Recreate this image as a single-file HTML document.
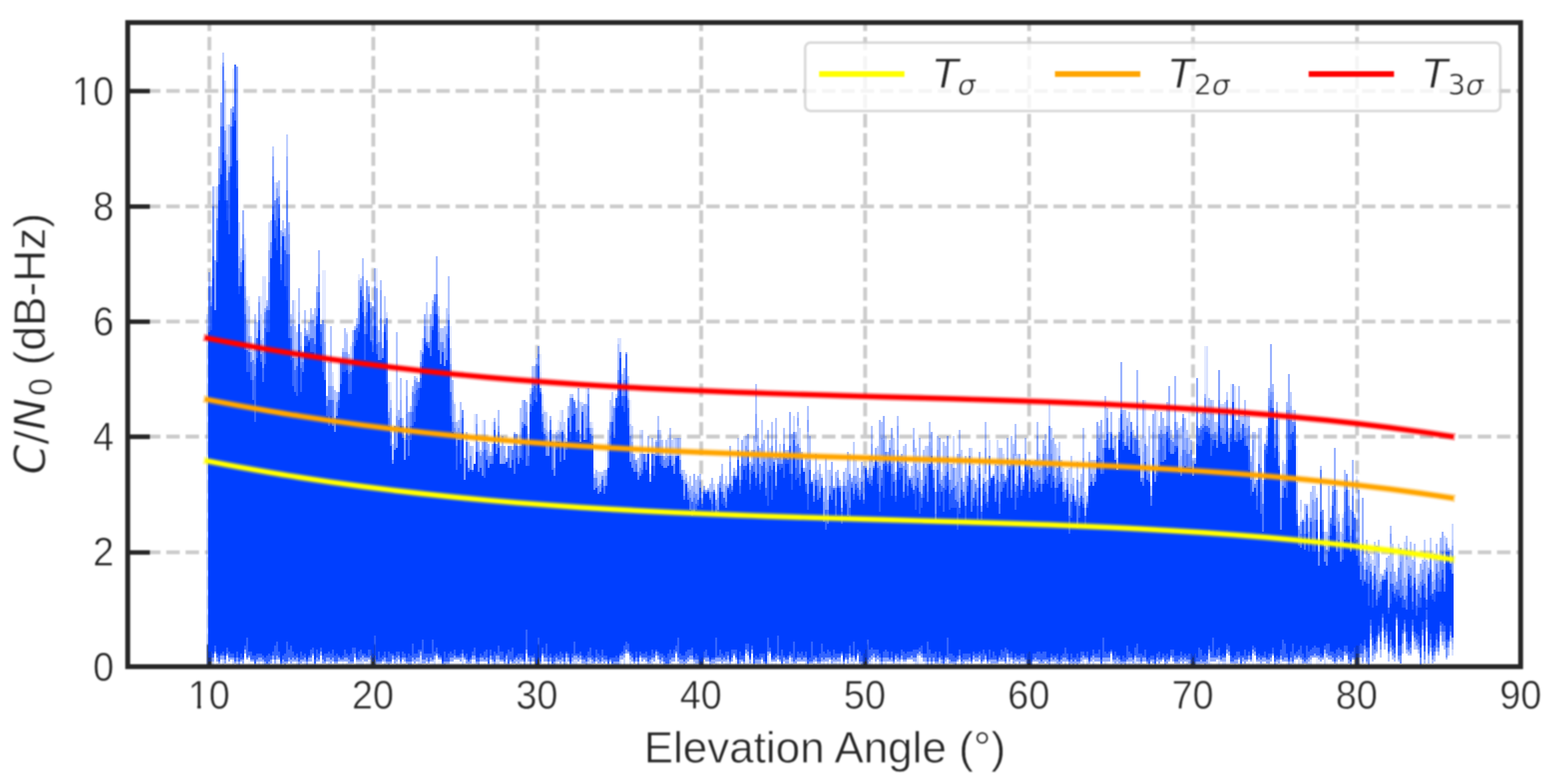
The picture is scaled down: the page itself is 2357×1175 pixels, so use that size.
<!DOCTYPE html>
<html lang="en">
<head>
<meta charset="utf-8">
<title>C/N0 vs Elevation Angle</title>
<style>
html,body{margin:0;padding:0;background:#fff;}
body{width:2357px;height:1175px;overflow:hidden;}
svg{display:block;}
</style>
</head>
<body>
<svg width="2357" height="1175" viewBox="0 0 2357 1175">
<rect width="2357" height="1175" fill="#fff"/>
<defs><filter id="soft" x="-2%" y="-2%" width="104%" height="104%" filterUnits="objectBoundingBox" color-interpolation-filters="sRGB"><feGaussianBlur stdDeviation="0.85"/></filter></defs>
<g filter="url(#soft)">
<g stroke="#cccccc" stroke-width="5.8" fill="none">
<path stroke-dasharray="20.2 8.74" d="M314.70 1001.7 V33.9"/>
<path stroke-dasharray="20.2 8.74" d="M561.15 1001.7 V33.9"/>
<path stroke-dasharray="20.2 8.74" d="M807.60 1001.7 V33.9"/>
<path stroke-dasharray="20.2 8.74" d="M1054.05 1001.7 V33.9"/>
<path stroke-dasharray="20.2 8.74" d="M1300.50 1001.7 V33.9"/>
<path stroke-dasharray="20.2 8.74" d="M1546.95 1001.7 V33.9"/>
<path stroke-dasharray="20.2 8.74" d="M1793.40 1001.7 V33.9"/>
<path stroke-dasharray="20.2 8.74" d="M2039.85 1001.7 V33.9"/>
<path stroke-dasharray="20.24 8.75" d="M192.0 829.80 H2285.8"/>
<path stroke-dasharray="20.24 8.75" d="M192.0 656.00 H2285.8"/>
<path stroke-dasharray="20.24 8.75" d="M192.0 483.10 H2285.8"/>
<path stroke-dasharray="20.24 8.75" d="M192.0 310.10 H2285.8"/>
<path stroke-dasharray="20.24 8.75" d="M192.0 136.60 H2285.8"/>
</g>
<g stroke="#262626" stroke-width="6.9" fill="none">
<path d="M314.70 1001.7 v-33.34"/>
<path d="M561.15 1001.7 v-33.34"/>
<path d="M807.60 1001.7 v-33.34"/>
<path d="M1054.05 1001.7 v-33.34"/>
<path d="M1300.50 1001.7 v-33.34"/>
<path d="M1546.95 1001.7 v-33.34"/>
<path d="M1793.40 1001.7 v-33.34"/>
<path d="M2039.85 1001.7 v-33.34"/>
<path d="M192.0 830.10 h33.34"/>
<path d="M192.0 656.30 h33.34"/>
<path d="M192.0 483.40 h33.34"/>
<path d="M192.0 310.40 h33.34"/>
<path d="M192.0 136.90 h33.34"/>
</g>
</g>
<g fill="#003fff" stroke="none" shape-rendering="crispEdges">
<path fill-opacity="0.05" d="M316 994h3V1000h-3zM331 97h3V154h-3zM331 991h3V1000h-3zM337 997h3V1000h-3zM340 985h3V1000h-3zM343 994h3V1000h-3zM352 997h3V1000h-3zM358 238h3V334h-3zM361 994h3V1000h-3zM373 988h3V1000h-3zM391 994h3V1000h-3zM409 991h3V1000h-3zM418 991h3V1000h-3zM424 997h3V1000h-3zM433 994h3V1000h-3zM442 994h3V1000h-3zM451 997h3V1000h-3zM466 994h3V1000h-3zM475 994h3V1000h-3zM481 985h3V1000h-3zM484 997h3V1000h-3zM487 997h3V1000h-3zM490 994h3V1000h-3zM508 994h3V1000h-3zM592 997h3V1000h-3zM598 991h3V1000h-3zM604 991h3V1000h-3zM619 994h3V1000h-3zM625 994h3V1000h-3zM634 997h3V1000h-3zM646 994h3V1000h-3zM658 991h3V1000h-3zM661 991h3V1000h-3zM676 994h3V1000h-3zM679 994h3V1000h-3zM682 991h3V1000h-3zM685 991h3V1000h-3zM688 991h3V1000h-3zM697 991h3V1000h-3zM700 997h3V1000h-3zM706 997h3V1000h-3zM709 991h3V1000h-3zM712 649h3V697h-3zM727 994h3V1000h-3zM751 994h3V1000h-3zM754 994h3V1000h-3zM766 994h3V1000h-3zM769 997h3V1000h-3zM784 994h3V1000h-3zM817 994h3V1000h-3zM826 994h3V1000h-3zM844 994h3V1000h-3zM868 994h3V1000h-3zM871 991h3V1000h-3zM892 997h3V1000h-3zM910 661h3V706h-3zM952 997h3V1000h-3zM961 988h3V1000h-3zM967 991h3V1000h-3zM985 985h3V1000h-3zM991 997h3V1000h-3zM994 994h3V1000h-3zM1006 997h3V1000h-3zM1033 994h3V1000h-3zM1036 991h3V1000h-3zM1039 991h3V1000h-3zM1060 994h3V1000h-3zM1072 997h3V1000h-3zM1126 997h3V1000h-3zM1129 982h3V1000h-3zM1135 997h3V1000h-3zM1144 991h3V1000h-3zM1156 982h3V1000h-3zM1162 994h3V1000h-3zM1201 994h3V1000h-3zM1225 994h3V1000h-3zM1228 997h3V1000h-3zM1240 994h3V1000h-3zM1246 991h3V1000h-3zM1264 985h3V1000h-3zM1273 997h3V1000h-3zM1288 985h3V1000h-3zM1291 997h3V1000h-3zM1300 994h3V1000h-3zM1333 994h3V1000h-3zM1336 994h3V1000h-3zM1372 994h3V1000h-3zM1381 985h3V1000h-3zM1384 988h3V1000h-3zM1387 994h3V1000h-3zM1402 994h3V1000h-3zM1405 997h3V1000h-3zM1426 997h3V1000h-3zM1438 994h3V1000h-3zM1441 991h3V1000h-3zM1450 994h3V1000h-3zM1471 991h3V1000h-3zM1483 997h3V1000h-3zM1492 997h3V1000h-3zM1498 997h3V1000h-3zM1504 994h3V1000h-3zM1522 997h3V1000h-3zM1546 997h3V1000h-3zM1552 994h3V1000h-3zM1573 997h3V1000h-3zM1645 994h3V1000h-3zM1666 994h3V1000h-3zM1687 997h3V1000h-3zM1717 994h3V1000h-3zM1723 997h3V1000h-3zM1729 994h3V1000h-3zM1741 997h3V1000h-3zM1765 997h3V1000h-3zM1780 994h3V1000h-3zM1789 997h3V1000h-3zM1819 994h3V1000h-3zM1828 991h3V1000h-3zM1834 994h3V1000h-3zM1843 982h3V1000h-3zM1846 985h3V1000h-3zM1852 997h3V1000h-3zM1873 994h3V1000h-3zM1900 994h3V1000h-3zM1909 994h3V1000h-3zM1927 994h3V1000h-3zM1984 994h3V1000h-3zM1993 988h3V1000h-3zM1999 991h3V1000h-3zM2002 994h3V1000h-3zM2020 985h3V1000h-3zM2023 985h3V1000h-3zM2044 988h3V1000h-3z"/>
<path fill-opacity="0.1" d="M313 994h3V1000h-3zM322 280h3V391h-3zM325 994h3V1000h-3zM328 997h3V1000h-3zM349 103h3V160h-3zM370 445h3V451h-3zM373 445h3V460h-3zM385 994h3V1000h-3zM391 445h3V472h-3zM415 991h3V1000h-3zM436 997h3V1000h-3zM439 994h3V1000h-3zM442 451h3V490h-3zM454 994h3V1000h-3zM463 994h3V1000h-3zM469 985h3V1000h-3zM484 406h3V481h-3zM487 406h3V487h-3zM496 997h3V1000h-3zM502 997h3V1000h-3zM505 997h3V1000h-3zM508 544h3V589h-3zM514 994h3V1000h-3zM520 994h3V1000h-3zM523 997h3V1000h-3zM526 997h3V1000h-3zM538 412h3V421h-3zM550 994h3V1000h-3zM553 991h3V1000h-3zM556 991h3V1000h-3zM565 403h3V433h-3zM565 997h3V1000h-3zM568 997h3V1000h-3zM580 997h3V1000h-3zM586 574h3V601h-3zM601 997h3V1000h-3zM607 994h3V1000h-3zM625 565h3V568h-3zM640 994h3V1000h-3zM643 472h3V490h-3zM649 994h3V1000h-3zM676 490h3V523h-3zM682 604h3V607h-3zM712 622h3V649h-3zM712 991h3V1000h-3zM724 631h3V664h-3zM739 634h3V667h-3zM778 997h3V1000h-3zM790 982h3V1000h-3zM793 994h3V1000h-3zM811 532h3V559h-3zM811 997h3V1000h-3zM817 616h3V619h-3zM829 646h3V652h-3zM835 646h3V649h-3zM838 631h3V646h-3zM838 994h3V1000h-3zM841 616h3V634h-3zM865 610h3V613h-3zM874 997h3V1000h-3zM880 583h3V607h-3zM889 634h3V643h-3zM889 997h3V1000h-3zM892 703h3V712h-3zM904 994h3V1000h-3zM913 643h3V646h-3zM946 601h3V637h-3zM970 994h3V1000h-3zM976 997h3V1000h-3zM982 664h3V682h-3zM1009 994h3V1000h-3zM1018 994h3V1000h-3zM1024 997h3V1000h-3zM1048 997h3V1000h-3zM1078 994h3V1000h-3zM1084 997h3V1000h-3zM1087 994h3V1000h-3zM1105 991h3V1000h-3zM1120 982h3V1000h-3zM1123 985h3V1000h-3zM1147 997h3V1000h-3zM1159 994h3V1000h-3zM1165 994h3V1000h-3zM1177 994h3V1000h-3zM1180 997h3V1000h-3zM1183 997h3V1000h-3zM1186 988h3V1000h-3zM1192 997h3V1000h-3zM1195 997h3V1000h-3zM1231 997h3V1000h-3zM1234 994h3V1000h-3zM1258 994h3V1000h-3zM1276 988h3V1000h-3zM1279 994h3V1000h-3zM1297 997h3V1000h-3zM1309 991h3V1000h-3zM1315 994h3V1000h-3zM1327 994h3V1000h-3zM1339 994h3V1000h-3zM1342 997h3V1000h-3zM1345 991h3V1000h-3zM1348 994h3V1000h-3zM1357 994h3V1000h-3zM1360 994h3V1000h-3zM1396 994h3V1000h-3zM1408 997h3V1000h-3zM1414 997h3V1000h-3zM1423 991h3V1000h-3zM1459 997h3V1000h-3zM1474 997h3V1000h-3zM1486 994h3V1000h-3zM1495 997h3V1000h-3zM1513 988h3V1000h-3zM1534 994h3V1000h-3zM1537 994h3V1000h-3zM1558 994h3V1000h-3zM1561 997h3V1000h-3zM1570 994h3V1000h-3zM1579 994h3V1000h-3zM1582 994h3V1000h-3zM1594 997h3V1000h-3zM1609 997h3V1000h-3zM1615 997h3V1000h-3zM1624 994h3V1000h-3zM1636 997h3V1000h-3zM1657 994h3V1000h-3zM1663 994h3V1000h-3zM1681 997h3V1000h-3zM1693 994h3V1000h-3zM1699 994h3V1000h-3zM1702 997h3V1000h-3zM1708 994h3V1000h-3zM1714 997h3V1000h-3zM1738 619h3V676h-3zM1753 997h3V1000h-3zM1768 997h3V1000h-3zM1771 997h3V1000h-3zM1777 997h3V1000h-3zM1786 619h3V658h-3zM1786 997h3V1000h-3zM1804 997h3V1000h-3zM1810 520h3V592h-3zM1849 577h3V622h-3zM1861 991h3V1000h-3zM1867 994h3V1000h-3zM1876 991h3V1000h-3zM1882 982h3V1000h-3zM1888 994h3V1000h-3zM1891 994h3V1000h-3zM1897 994h3V1000h-3zM1900 664h3V667h-3zM1924 991h3V1000h-3zM1933 994h3V1000h-3zM1942 997h3V1000h-3zM1945 991h3V1000h-3zM1948 670h3V724h-3zM1954 991h3V1000h-3zM1957 778h3V781h-3zM1966 757h3V778h-3zM1978 742h3V748h-3zM1978 988h3V1000h-3zM1981 991h3V1000h-3zM1999 760h3V778h-3zM2005 997h3V1000h-3zM2014 994h3V1000h-3zM2017 772h3V778h-3zM2017 994h3V1000h-3zM2038 715h3V781h-3zM2041 988h3V1000h-3z"/>
<path fill-opacity="0.15" d="M316 421h3V430h-3zM340 187h3V232h-3zM367 358h3V382h-3zM394 415h3V508h-3zM397 415h3V463h-3zM412 274h3V301h-3zM499 559h3V580h-3zM520 499h3V502h-3zM574 499h3V523h-3zM580 469h3V478h-3zM811 559h3V583h-3zM928 508h3V517h-3zM931 508h3V529h-3zM961 646h3V682h-3zM1657 649h3V661h-3zM1720 601h3V655h-3zM1813 520h3V601h-3zM1855 580h3V622h-3zM1885 679h3V721h-3zM1954 769h3V784h-3zM2182 976h3V985h-3z"/>
<path fill-opacity="0.2" d="M310 472h3V1000h-3zM319 994h3V1000h-3zM334 991h3V1000h-3zM337 121h3V196h-3zM349 991h3V1000h-3zM355 994h3V1000h-3zM364 997h3V1000h-3zM388 994h3V1000h-3zM394 994h3V1000h-3zM403 334h3V376h-3zM412 997h3V1000h-3zM445 994h3V1000h-3zM457 994h3V1000h-3zM493 994h3V1000h-3zM526 520h3V541h-3zM535 994h3V1000h-3zM538 994h3V1000h-3zM541 994h3V1000h-3zM544 991h3V1000h-3zM562 991h3V1000h-3zM577 994h3V1000h-3zM595 994h3V1000h-3zM628 994h3V1000h-3zM631 985h3V1000h-3zM643 490h3V514h-3zM652 991h3V1000h-3zM670 997h3V1000h-3zM673 997h3V1000h-3zM694 988h3V1000h-3zM703 997h3V1000h-3zM715 997h3V1000h-3zM739 994h3V1000h-3zM745 991h3V1000h-3zM748 991h3V1000h-3zM757 997h3V1000h-3zM760 991h3V1000h-3zM775 994h3V1000h-3zM781 994h3V1000h-3zM796 583h3V592h-3zM814 592h3V610h-3zM835 994h3V1000h-3zM841 997h3V1000h-3zM850 988h3V1000h-3zM859 994h3V1000h-3zM862 991h3V1000h-3zM865 991h3V1000h-3zM874 604h3V610h-3zM877 997h3V1000h-3zM883 994h3V1000h-3zM886 991h3V1000h-3zM925 592h3V598h-3zM931 991h3V1000h-3zM937 988h3V1000h-3zM946 991h3V1000h-3zM973 997h3V1000h-3zM979 991h3V1000h-3zM1003 658h3V685h-3zM1012 658h3V685h-3zM1021 997h3V1000h-3zM1042 994h3V1000h-3zM1045 997h3V1000h-3zM1054 997h3V1000h-3zM1069 997h3V1000h-3zM1072 727h3V736h-3zM1075 742h3V751h-3zM1075 994h3V1000h-3zM1090 994h3V1000h-3zM1093 991h3V1000h-3zM1096 997h3V1000h-3zM1105 706h3V715h-3zM1111 997h3V1000h-3zM1117 655h3V682h-3zM1117 997h3V1000h-3zM1138 997h3V1000h-3zM1141 997h3V1000h-3zM1153 985h3V1000h-3zM1156 673h3V685h-3zM1162 685h3V688h-3zM1165 691h3V709h-3zM1189 994h3V1000h-3zM1192 625h3V649h-3zM1201 643h3V673h-3zM1210 994h3V1000h-3zM1222 994h3V1000h-3zM1234 712h3V718h-3zM1237 994h3V1000h-3zM1243 706h3V751h-3zM1243 994h3V1000h-3zM1249 997h3V1000h-3zM1252 994h3V1000h-3zM1255 994h3V1000h-3zM1261 994h3V1000h-3zM1276 682h3V712h-3zM1282 988h3V1000h-3zM1285 691h3V715h-3zM1303 997h3V1000h-3zM1306 994h3V1000h-3zM1321 994h3V1000h-3zM1330 655h3V679h-3zM1330 994h3V1000h-3zM1351 994h3V1000h-3zM1375 994h3V1000h-3zM1378 685h3V706h-3zM1378 985h3V1000h-3zM1390 994h3V1000h-3zM1402 697h3V706h-3zM1405 700h3V739h-3zM1411 991h3V1000h-3zM1414 709h3V721h-3zM1420 994h3V1000h-3zM1432 655h3V703h-3zM1432 997h3V1000h-3zM1447 997h3V1000h-3zM1453 709h3V715h-3zM1453 994h3V1000h-3zM1459 673h3V721h-3zM1462 697h3V718h-3zM1477 691h3V718h-3zM1480 712h3V724h-3zM1486 661h3V685h-3zM1489 715h3V718h-3zM1489 997h3V1000h-3zM1498 661h3V700h-3zM1507 682h3V712h-3zM1516 994h3V1000h-3zM1525 994h3V1000h-3zM1531 997h3V1000h-3zM1534 706h3V718h-3zM1537 712h3V724h-3zM1540 994h3V1000h-3zM1549 700h3V703h-3zM1576 604h3V640h-3zM1585 994h3V1000h-3zM1588 673h3V703h-3zM1588 997h3V1000h-3zM1597 703h3V724h-3zM1600 718h3V736h-3zM1600 994h3V1000h-3zM1606 703h3V742h-3zM1627 991h3V1000h-3zM1633 991h3V1000h-3zM1642 991h3V1000h-3zM1660 994h3V1000h-3zM1672 994h3V1000h-3zM1675 997h3V1000h-3zM1678 994h3V1000h-3zM1696 994h3V1000h-3zM1705 988h3V1000h-3zM1711 994h3V1000h-3zM1714 658h3V706h-3zM1783 994h3V1000h-3zM1792 994h3V1000h-3zM1795 997h3V1000h-3zM1798 997h3V1000h-3zM1801 997h3V1000h-3zM1813 601h3V628h-3zM1813 997h3V1000h-3zM1816 982h3V1000h-3zM1831 991h3V1000h-3zM1834 607h3V622h-3zM1837 607h3V622h-3zM1837 994h3V1000h-3zM1840 994h3V1000h-3zM1855 997h3V1000h-3zM1870 997h3V1000h-3zM1894 997h3V1000h-3zM1906 997h3V1000h-3zM1918 994h3V1000h-3zM1921 628h3V658h-3zM1927 691h3V694h-3zM1939 994h3V1000h-3zM1942 616h3V634h-3zM1951 988h3V1000h-3zM1957 997h3V1000h-3zM1963 997h3V1000h-3zM1966 994h3V1000h-3zM1969 991h3V1000h-3zM1990 982h3V1000h-3zM2008 994h3V1000h-3zM2038 988h3V1000h-3zM2062 841h3V865h-3zM2077 862h3V865h-3zM2098 865h3V874h-3zM2101 817h3V853h-3zM2110 814h3V868h-3zM2128 862h3V886h-3zM2146 844h3V853h-3zM2170 805h3V847h-3zM2182 787h3V811h-3z"/>
<path fill-opacity="0.25" d="M325 280h3V310h-3zM334 79h3V94h-3zM358 334h3V385h-3zM376 505h3V529h-3zM379 526h3V541h-3zM385 484h3V508h-3zM391 472h3V511h-3zM409 220h3V235h-3zM430 202h3V235h-3zM469 472h3V481h-3zM577 445h3V478h-3zM583 574h3V619h-3zM640 454h3V490h-3zM658 460h3V475h-3zM670 463h3V490h-3zM709 670h3V706h-3zM820 619h3V646h-3zM832 652h3V664h-3zM844 616h3V646h-3zM847 634h3V652h-3zM856 592h3V598h-3zM871 604h3V652h-3zM886 634h3V643h-3zM898 709h3V730h-3zM901 709h3V727h-3zM904 709h3V715h-3zM916 601h3V634h-3zM919 589h3V610h-3zM949 640h3V664h-3zM964 646h3V682h-3zM991 646h3V661h-3zM1009 661h3V685h-3zM1027 706h3V721h-3zM1108 658h3V676h-3zM1135 664h3V682h-3zM1144 631h3V667h-3zM1168 682h3V688h-3zM1171 667h3V682h-3zM1198 640h3V667h-3zM1228 706h3V721h-3zM1270 703h3V730h-3zM1282 664h3V715h-3zM1303 706h3V712h-3zM1318 670h3V694h-3zM1342 658h3V676h-3zM1357 670h3V700h-3zM1366 715h3V718h-3zM1390 670h3V703h-3zM1426 697h3V721h-3zM1444 676h3V718h-3zM1474 733h3V760h-3zM1525 685h3V727h-3zM1528 682h3V715h-3zM1561 682h3V706h-3zM1570 652h3V670h-3zM1591 664h3V685h-3zM1594 691h3V709h-3zM1609 685h3V727h-3zM1618 694h3V721h-3zM1621 724h3V748h-3zM1630 739h3V763h-3zM1681 628h3V649h-3zM1774 640h3V685h-3zM1822 601h3V622h-3zM1840 604h3V622h-3zM1843 589h3V601h-3zM1885 649h3V679h-3zM1939 589h3V610h-3zM1954 751h3V769h-3zM1975 730h3V754h-3zM2050 838h3V856h-3zM2059 835h3V847h-3zM2065 814h3V850h-3zM2092 817h3V847h-3zM2140 811h3V844h-3zM2149 808h3V838h-3zM2152 859h3V874h-3zM2182 811h3V820h-3z"/>
<path fill-opacity="0.3" d="M340 232h3V271h-3zM343 187h3V250h-3zM361 373h3V394h-3zM367 382h3V430h-3zM370 451h3V487h-3zM373 460h3V505h-3zM382 472h3V484h-3zM388 445h3V454h-3zM394 508h3V529h-3zM400 451h3V460h-3zM406 331h3V364h-3zM415 274h3V283h-3zM418 271h3V295h-3zM424 331h3V349h-3zM427 343h3V355h-3zM436 472h3V490h-3zM439 451h3V487h-3zM442 490h3V538h-3zM445 499h3V538h-3zM448 433h3V469h-3zM451 499h3V520h-3zM457 466h3V493h-3zM460 496h3V502h-3zM463 484h3V502h-3zM466 463h3V481h-3zM472 463h3V490h-3zM487 487h3V514h-3zM493 544h3V580h-3zM496 490h3V580h-3zM502 586h3V628h-3zM505 589h3V604h-3zM514 523h3V529h-3zM517 493h3V529h-3zM520 502h3V529h-3zM523 532h3V544h-3zM529 496h3V514h-3zM532 490h3V496h-3zM535 478h3V487h-3zM538 421h3V463h-3zM541 418h3V430h-3zM544 388h3V415h-3zM547 451h3V475h-3zM562 403h3V430h-3zM568 496h3V514h-3zM571 421h3V436h-3zM586 601h3V613h-3zM589 667h3V691h-3zM595 499h3V625h-3zM601 568h3V601h-3zM604 628h3V640h-3zM607 658h3V661h-3zM616 610h3V619h-3zM622 565h3V571h-3zM631 526h3V544h-3zM634 508h3V529h-3zM649 451h3V460h-3zM661 493h3V514h-3zM664 493h3V514h-3zM667 490h3V523h-3zM673 415h3V472h-3zM676 523h3V547h-3zM682 607h3V634h-3zM688 631h3V643h-3zM691 604h3V631h-3zM700 649h3V664h-3zM703 664h3V703h-3zM706 670h3V685h-3zM715 622h3V637h-3zM721 676h3V685h-3zM727 631h3V664h-3zM736 679h3V685h-3zM742 628h3V634h-3zM748 616h3V640h-3zM754 655h3V670h-3zM769 670h3V676h-3zM772 649h3V652h-3zM781 613h3V649h-3zM784 601h3V634h-3zM793 652h3V664h-3zM799 550h3V571h-3zM802 550h3V574h-3zM805 538h3V547h-3zM814 610h3V622h-3zM817 619h3V643h-3zM823 649h3V664h-3zM829 652h3V664h-3zM838 646h3V652h-3zM841 634h3V649h-3zM850 658h3V664h-3zM859 592h3V598h-3zM889 643h3V655h-3zM892 712h3V718h-3zM907 706h3V715h-3zM913 646h3V664h-3zM922 610h3V613h-3zM928 517h3V556h-3zM934 562h3V577h-3zM943 565h3V598h-3zM946 637h3V655h-3zM958 688h3V709h-3zM973 655h3V682h-3zM979 658h3V682h-3zM985 661h3V664h-3zM988 625h3V646h-3zM994 661h3V685h-3zM1000 661h3V685h-3zM1006 643h3V658h-3zM1015 658h3V685h-3zM1021 658h3V685h-3zM1021 685h3V691h-3zM1030 712h3V718h-3zM1033 724h3V733h-3zM1036 715h3V736h-3zM1045 721h3V742h-3zM1051 712h3V724h-3zM1054 739h3V748h-3zM1063 733h3V736h-3zM1066 727h3V739h-3zM1084 697h3V712h-3zM1087 727h3V739h-3zM1090 715h3V730h-3zM1093 727h3V730h-3zM1099 715h3V730h-3zM1120 655h3V670h-3zM1129 676h3V697h-3zM1132 655h3V676h-3zM1135 577h3V622h-3zM1138 643h3V670h-3zM1141 673h3V697h-3zM1159 634h3V670h-3zM1165 628h3V661h-3zM1177 643h3V667h-3zM1180 676h3V682h-3zM1195 649h3V670h-3zM1198 619h3V628h-3zM1204 679h3V685h-3zM1213 610h3V631h-3zM1213 649h3V694h-3zM1216 655h3V691h-3zM1219 721h3V724h-3zM1225 682h3V709h-3zM1231 697h3V712h-3zM1240 688h3V730h-3zM1246 706h3V730h-3zM1252 730h3V733h-3zM1261 721h3V730h-3zM1264 730h3V763h-3zM1300 700h3V703h-3zM1309 640h3V667h-3zM1309 694h3V715h-3zM1312 694h3V700h-3zM1324 634h3V658h-3zM1324 685h3V706h-3zM1336 661h3V673h-3zM1348 625h3V640h-3zM1351 685h3V694h-3zM1360 667h3V688h-3zM1369 700h3V718h-3zM1372 643h3V661h-3zM1372 679h3V715h-3zM1375 673h3V697h-3zM1381 658h3V709h-3zM1387 676h3V697h-3zM1393 670h3V697h-3zM1396 634h3V664h-3zM1396 694h3V697h-3zM1408 655h3V676h-3zM1417 664h3V715h-3zM1420 670h3V700h-3zM1435 703h3V730h-3zM1441 646h3V682h-3zM1450 685h3V715h-3zM1456 673h3V685h-3zM1465 721h3V727h-3zM1468 700h3V733h-3zM1480 634h3V673h-3zM1492 712h3V715h-3zM1501 673h3V724h-3zM1504 673h3V691h-3zM1516 697h3V700h-3zM1519 655h3V694h-3zM1522 667h3V682h-3zM1525 637h3V661h-3zM1540 658h3V682h-3zM1543 694h3V697h-3zM1558 634h3V655h-3zM1564 691h3V703h-3zM1573 682h3V703h-3zM1579 643h3V661h-3zM1585 667h3V718h-3zM1615 745h3V751h-3zM1624 712h3V724h-3zM1627 643h3V688h-3zM1639 691h3V712h-3zM1642 691h3V718h-3zM1645 691h3V712h-3zM1651 640h3V658h-3zM1657 661h3V673h-3zM1660 595h3V661h-3zM1663 613h3V628h-3zM1666 649h3V673h-3zM1672 658h3V673h-3zM1678 688h3V706h-3zM1690 616h3V664h-3zM1696 619h3V655h-3zM1702 646h3V658h-3zM1705 655h3V658h-3zM1711 661h3V673h-3zM1714 706h3V718h-3zM1717 658h3V679h-3zM1720 655h3V667h-3zM1723 670h3V706h-3zM1726 640h3V691h-3zM1729 730h3V745h-3zM1735 616h3V700h-3zM1738 676h3V706h-3zM1741 640h3V652h-3zM1750 640h3V652h-3zM1753 604h3V640h-3zM1759 646h3V661h-3zM1762 658h3V664h-3zM1768 634h3V646h-3zM1771 643h3V691h-3zM1780 628h3V658h-3zM1783 646h3V658h-3zM1786 658h3V682h-3zM1789 661h3V676h-3zM1792 688h3V706h-3zM1804 622h3V640h-3zM1816 598h3V631h-3zM1825 634h3V649h-3zM1828 634h3V649h-3zM1846 643h3V658h-3zM1849 622h3V643h-3zM1855 622h3V631h-3zM1861 580h3V622h-3zM1864 625h3V643h-3zM1867 625h3V637h-3zM1870 601h3V622h-3zM1873 625h3V643h-3zM1876 625h3V640h-3zM1879 685h3V694h-3zM1882 649h3V661h-3zM1885 721h3V727h-3zM1891 643h3V670h-3zM1894 643h3V670h-3zM1897 721h3V727h-3zM1903 640h3V661h-3zM1921 658h3V679h-3zM1924 721h3V748h-3zM1927 694h3V721h-3zM1930 697h3V715h-3zM1945 616h3V634h-3zM1960 757h3V784h-3zM1963 757h3V760h-3zM1966 778h3V799h-3zM1969 739h3V778h-3zM1972 730h3V751h-3zM1981 811h3V829h-3zM1984 700h3V706h-3zM1990 799h3V820h-3zM1993 799h3V826h-3zM1996 730h3V784h-3zM2008 736h3V778h-3zM2011 772h3V784h-3zM2014 799h3V820h-3zM2020 706h3V721h-3zM2026 736h3V760h-3zM2035 772h3V778h-3zM2044 826h3V844h-3zM2047 994h3V997h-3zM2050 976h3V988h-3zM2053 811h3V844h-3zM2053 994h3V997h-3zM2059 952h3V961h-3zM2062 985h3V994h-3zM2065 982h3V991h-3zM2068 979h3V982h-3zM2071 811h3V832h-3zM2071 955h3V958h-3zM2074 862h3V874h-3zM2074 976h3V988h-3zM2077 943h3V949h-3zM2080 967h3V976h-3zM2083 955h3V967h-3zM2086 835h3V886h-3zM2086 982h3V994h-3zM2089 790h3V802h-3zM2089 817h3V859h-3zM2089 973h3V979h-3zM2092 985h3V991h-3zM2095 988h3V994h-3zM2098 931h3V940h-3zM2101 991h3V994h-3zM2107 967h3V982h-3zM2110 949h3V952h-3zM2113 805h3V823h-3zM2113 841h3V880h-3zM2113 976h3V982h-3zM2116 829h3V850h-3zM2116 979h3V985h-3zM2119 814h3V853h-3zM2119 982h3V985h-3zM2122 949h3V955h-3zM2125 817h3V844h-3zM2125 964h3V976h-3zM2128 970h3V976h-3zM2131 976h3V982h-3zM2137 841h3V856h-3zM2137 955h3V970h-3zM2140 991h3V997h-3zM2143 841h3V883h-3zM2143 943h3V949h-3zM2146 985h3V997h-3zM2149 973h3V979h-3zM2152 991h3V997h-3zM2155 832h3V871h-3zM2155 985h3V994h-3zM2158 973h3V979h-3zM2161 979h3V985h-3zM2164 949h3V955h-3zM2167 964h3V970h-3zM2170 964h3V976h-3zM2173 808h3V817h-3zM2173 988h3V991h-3zM2176 823h3V826h-3zM2176 973h3V985h-3zM2179 826h3V844h-3zM2179 955h3V964h-3zM2182 967h3V976h-3z"/>
<path fill-opacity="0.35" d="M313 409h3V430h-3zM319 280h3V310h-3zM325 310h3V328h-3zM328 220h3V253h-3zM433 334h3V352h-3zM475 430h3V439h-3zM478 376h3V412h-3zM556 454h3V463h-3zM577 478h3V487h-3zM598 616h3V631h-3zM610 571h3V595h-3zM619 580h3V589h-3zM625 568h3V574h-3zM640 490h3V514h-3zM655 385h3V442h-3zM670 490h3V502h-3zM679 571h3V601h-3zM685 634h3V649h-3zM718 664h3V679h-3zM733 667h3V685h-3zM781 649h3V670h-3zM826 625h3V631h-3zM835 649h3V655h-3zM853 610h3V628h-3zM868 583h3V601h-3zM883 583h3V592h-3zM895 706h3V718h-3zM1012 685h3V697h-3zM1024 706h3V712h-3zM1048 715h3V742h-3zM1069 718h3V739h-3zM1096 670h3V694h-3zM1102 703h3V709h-3zM1111 700h3V721h-3zM1126 694h3V706h-3zM1147 661h3V682h-3zM1153 646h3V682h-3zM1174 682h3V691h-3zM1183 676h3V685h-3zM1189 652h3V688h-3zM1210 688h3V703h-3zM1255 709h3V733h-3zM1258 706h3V718h-3zM1273 679h3V721h-3zM1279 718h3V724h-3zM1291 718h3V736h-3zM1294 694h3V706h-3zM1306 685h3V703h-3zM1321 631h3V700h-3zM1345 709h3V721h-3zM1348 658h3V676h-3zM1363 697h3V715h-3zM1384 721h3V742h-3zM1438 682h3V724h-3zM1447 724h3V739h-3zM1483 721h3V742h-3zM1495 697h3V727h-3zM1510 715h3V721h-3zM1513 658h3V688h-3zM1552 697h3V709h-3zM1555 691h3V709h-3zM1582 658h3V694h-3zM1603 706h3V718h-3zM1612 718h3V730h-3zM1669 619h3V649h-3zM1687 616h3V646h-3zM1693 628h3V640h-3zM1708 556h3V619h-3zM1717 601h3V658h-3zM1726 691h3V706h-3zM1747 628h3V652h-3zM1765 565h3V619h-3zM1810 592h3V598h-3zM1819 601h3V622h-3zM1891 670h3V697h-3zM1894 670h3V703h-3zM1912 577h3V589h-3zM1918 604h3V616h-3zM1933 604h3V616h-3zM2017 778h3V802h-3zM2032 691h3V724h-3zM2068 820h3V871h-3zM2071 853h3V877h-3zM2083 838h3V853h-3zM2122 841h3V880h-3zM2131 862h3V880h-3zM2158 817h3V847h-3zM2161 841h3V859h-3zM2164 808h3V841h-3z"/>
<path fill-opacity="0.4" d="M346 163h3V190h-3zM358 385h3V403h-3zM364 316h3V352h-3zM382 484h3V508h-3zM397 463h3V469h-3zM403 376h3V424h-3zM421 346h3V370h-3zM430 235h3V286h-3zM448 469h3V487h-3zM499 580h3V601h-3zM550 421h3V430h-3zM553 430h3V442h-3zM559 460h3V490h-3zM601 601h3V628h-3zM637 472h3V490h-3zM646 472h3V490h-3zM658 475h3V490h-3zM673 472h3V481h-3zM691 631h3V649h-3zM724 664h3V679h-3zM730 664h3V676h-3zM751 670h3V697h-3zM757 670h3V685h-3zM760 688h3V694h-3zM790 604h3V619h-3zM808 520h3V532h-3zM820 646h3V655h-3zM832 664h3V703h-3zM847 652h3V664h-3zM862 601h3V604h-3zM877 607h3V661h-3zM880 607h3V625h-3zM907 715h3V730h-3zM910 706h3V715h-3zM913 664h3V679h-3zM919 610h3V625h-3zM937 553h3V571h-3zM940 529h3V532h-3zM943 598h3V601h-3zM949 664h3V682h-3zM952 682h3V691h-3zM961 682h3V703h-3zM970 682h3V694h-3zM976 712h3V724h-3zM991 661h3V685h-3zM997 685h3V691h-3zM1000 685h3V688h-3zM1006 658h3V685h-3zM1018 658h3V685h-3zM1039 730h3V742h-3zM1042 712h3V739h-3zM1057 730h3V736h-3zM1060 736h3V739h-3zM1078 727h3V748h-3zM1081 715h3V724h-3zM1114 661h3V679h-3zM1123 652h3V676h-3zM1150 682h3V703h-3zM1186 619h3V652h-3zM1207 703h3V706h-3zM1222 712h3V727h-3zM1237 733h3V754h-3zM1249 694h3V715h-3zM1267 709h3V724h-3zM1288 703h3V724h-3zM1297 700h3V733h-3zM1315 673h3V685h-3zM1327 625h3V661h-3zM1333 679h3V688h-3zM1339 643h3V697h-3zM1354 682h3V697h-3zM1399 649h3V673h-3zM1411 658h3V688h-3zM1423 655h3V685h-3zM1429 697h3V721h-3zM1441 718h3V748h-3zM1471 679h3V703h-3zM1531 682h3V691h-3zM1546 691h3V718h-3zM1567 661h3V682h-3zM1627 733h3V748h-3zM1633 745h3V754h-3zM1636 679h3V700h-3zM1654 631h3V661h-3zM1675 655h3V670h-3zM1684 544h3V616h-3zM1708 619h3V640h-3zM1717 679h3V718h-3zM1732 622h3V649h-3zM1735 700h3V712h-3zM1744 619h3V646h-3zM1756 580h3V640h-3zM1765 619h3V634h-3zM1771 691h3V703h-3zM1774 685h3V706h-3zM1777 622h3V628h-3zM1780 658h3V676h-3zM1795 688h3V697h-3zM1807 619h3V637h-3zM1813 628h3V640h-3zM1822 622h3V652h-3zM1828 649h3V661h-3zM1834 622h3V643h-3zM1837 622h3V643h-3zM1861 622h3V631h-3zM1870 622h3V643h-3zM1897 727h3V757h-3zM1906 583h3V595h-3zM1909 517h3V589h-3zM1915 631h3V652h-3zM1936 562h3V616h-3zM1939 610h3V631h-3zM1948 724h3V766h-3zM1975 754h3V781h-3zM1996 784h3V805h-3zM2002 730h3V739h-3zM2005 673h3V721h-3zM2008 778h3V799h-3zM2020 721h3V739h-3zM2029 766h3V805h-3zM2032 724h3V745h-3zM2038 781h3V811h-3zM2041 736h3V790h-3zM2047 748h3V817h-3zM2056 832h3V850h-3zM2080 856h3V865h-3zM2095 859h3V880h-3zM2104 823h3V844h-3zM2107 832h3V880h-3zM2134 847h3V874h-3zM2167 799h3V829h-3zM2182 820h3V832h-3zM2182 958h3V967h-3z"/>
<path fill-opacity="0.45" d="M313 988h3V994h-3zM316 430h3V454h-3zM316 988h3V994h-3zM319 988h3V994h-3zM322 979h3V982h-3zM325 988h3V994h-3zM328 994h3V997h-3zM331 154h3V190h-3zM331 985h3V991h-3zM334 985h3V991h-3zM337 991h3V997h-3zM340 982h3V985h-3zM343 988h3V994h-3zM346 988h3V991h-3zM349 988h3V991h-3zM352 994h3V997h-3zM355 100h3V241h-3zM355 988h3V994h-3zM358 994h3V1000h-3zM361 991h3V994h-3zM364 991h3V997h-3zM367 976h3V982h-3zM370 487h3V526h-3zM370 988h3V991h-3zM373 985h3V988h-3zM376 991h3V994h-3zM379 991h3V994h-3zM382 508h3V547h-3zM382 997h3V1000h-3zM385 991h3V994h-3zM388 988h3V994h-3zM391 511h3V532h-3zM391 988h3V994h-3zM394 991h3V994h-3zM397 994h3V1000h-3zM400 997h3V1000h-3zM403 994h3V1000h-3zM406 991h3V997h-3zM409 235h3V265h-3zM409 985h3V991h-3zM412 991h3V997h-3zM415 283h3V298h-3zM415 985h3V991h-3zM418 988h3V991h-3zM421 997h3V1000h-3zM424 991h3V997h-3zM427 994h3V1000h-3zM430 994h3V997h-3zM433 988h3V994h-3zM436 991h3V997h-3zM439 487h3V538h-3zM439 988h3V994h-3zM442 991h3V994h-3zM445 988h3V994h-3zM448 994h3V1000h-3zM451 991h3V997h-3zM454 991h3V994h-3zM457 988h3V994h-3zM460 994h3V1000h-3zM463 988h3V994h-3zM466 988h3V994h-3zM469 982h3V985h-3zM472 997h3V1000h-3zM475 988h3V994h-3zM478 991h3V994h-3zM481 979h3V985h-3zM484 991h3V997h-3zM487 994h3V997h-3zM490 988h3V994h-3zM493 988h3V994h-3zM496 991h3V997h-3zM499 988h3V994h-3zM502 994h3V997h-3zM505 994h3V997h-3zM508 988h3V994h-3zM511 991h3V994h-3zM514 991h3V994h-3zM517 988h3V994h-3zM520 988h3V994h-3zM523 991h3V997h-3zM526 994h3V997h-3zM529 994h3V997h-3zM532 982h3V988h-3zM535 991h3V994h-3zM538 991h3V994h-3zM541 988h3V994h-3zM544 985h3V991h-3zM547 988h3V994h-3zM550 988h3V994h-3zM553 988h3V991h-3zM556 985h3V991h-3zM559 988h3V994h-3zM562 985h3V991h-3zM565 433h3V490h-3zM565 994h3V997h-3zM568 994h3V997h-3zM571 436h3V478h-3zM571 994h3V997h-3zM574 991h3V994h-3zM577 988h3V994h-3zM580 994h3V997h-3zM583 994h3V1000h-3zM586 994h3V997h-3zM589 985h3V991h-3zM592 991h3V997h-3zM595 988h3V994h-3zM598 985h3V991h-3zM601 994h3V997h-3zM604 988h3V991h-3zM607 988h3V994h-3zM610 994h3V997h-3zM613 619h3V655h-3zM613 994h3V1000h-3zM616 994h3V1000h-3zM619 988h3V994h-3zM622 991h3V997h-3zM625 988h3V994h-3zM628 988h3V994h-3zM631 979h3V985h-3zM634 991h3V997h-3zM637 991h3V997h-3zM640 988h3V994h-3zM643 994h3V997h-3zM646 988h3V994h-3zM649 991h3V994h-3zM652 985h3V991h-3zM655 982h3V985h-3zM658 490h3V499h-3zM658 988h3V991h-3zM661 988h3V991h-3zM664 997h3V1000h-3zM667 994h3V1000h-3zM670 994h3V997h-3zM673 994h3V997h-3zM676 988h3V994h-3zM679 601h3V634h-3zM679 988h3V994h-3zM682 634h3V643h-3zM682 985h3V991h-3zM685 988h3V991h-3zM688 988h3V991h-3zM691 988h3V994h-3zM694 982h3V988h-3zM697 988h3V991h-3zM700 991h3V997h-3zM703 994h3V997h-3zM706 991h3V997h-3zM709 985h3V991h-3zM712 985h3V991h-3zM715 994h3V997h-3zM718 994h3V1000h-3zM721 988h3V994h-3zM724 988h3V994h-3zM727 991h3V994h-3zM730 988h3V994h-3zM733 997h3V1000h-3zM736 985h3V991h-3zM739 991h3V994h-3zM742 994h3V1000h-3zM745 985h3V991h-3zM748 985h3V991h-3zM751 991h3V994h-3zM754 670h3V697h-3zM754 991h3V994h-3zM757 994h3V997h-3zM760 985h3V991h-3zM763 997h3V1000h-3zM766 991h3V994h-3zM769 994h3V997h-3zM772 991h3V997h-3zM775 988h3V994h-3zM778 991h3V997h-3zM781 988h3V994h-3zM784 991h3V994h-3zM787 994h3V1000h-3zM790 976h3V982h-3zM793 988h3V994h-3zM796 994h3V1000h-3zM799 988h3V994h-3zM802 988h3V994h-3zM805 997h3V1000h-3zM808 988h3V991h-3zM811 994h3V997h-3zM814 982h3V985h-3zM817 988h3V994h-3zM820 988h3V994h-3zM823 994h3V1000h-3zM826 988h3V994h-3zM829 997h3V1000h-3zM832 994h3V1000h-3zM835 988h3V994h-3zM838 652h3V664h-3zM838 991h3V994h-3zM841 991h3V997h-3zM844 988h3V994h-3zM847 994h3V1000h-3zM850 982h3V988h-3zM853 988h3V994h-3zM856 997h3V1000h-3zM859 988h3V994h-3zM862 985h3V991h-3zM865 985h3V991h-3zM868 988h3V994h-3zM871 985h3V991h-3zM874 610h3V619h-3zM874 991h3V997h-3zM877 991h3V997h-3zM880 994h3V1000h-3zM883 988h3V994h-3zM886 988h3V991h-3zM889 991h3V997h-3zM892 994h3V997h-3zM895 988h3V994h-3zM898 991h3V997h-3zM901 994h3V997h-3zM904 988h3V994h-3zM907 991h3V997h-3zM910 991h3V994h-3zM913 997h3V1000h-3zM916 991h3V994h-3zM919 997h3V1000h-3zM922 994h3V1000h-3zM925 994h3V1000h-3zM928 994h3V1000h-3zM931 985h3V991h-3zM934 985h3V991h-3zM937 982h3V988h-3zM940 976h3V982h-3zM943 979h3V982h-3zM946 985h3V991h-3zM949 988h3V994h-3zM952 994h3V997h-3zM955 988h3V994h-3zM958 994h3V1000h-3zM961 985h3V988h-3zM964 988h3V994h-3zM967 988h3V991h-3zM970 988h3V994h-3zM973 994h3V997h-3zM976 991h3V997h-3zM979 988h3V991h-3zM982 988h3V994h-3zM985 979h3V985h-3zM988 985h3V991h-3zM991 991h3V997h-3zM994 988h3V994h-3zM997 994h3V1000h-3zM1000 997h3V1000h-3zM1003 997h3V1000h-3zM1006 991h3V997h-3zM1009 988h3V994h-3zM1012 988h3V994h-3zM1015 979h3V982h-3zM1018 988h3V994h-3zM1021 991h3V997h-3zM1024 712h3V715h-3zM1024 991h3V997h-3zM1027 994h3V1000h-3zM1030 718h3V727h-3zM1030 991h3V997h-3zM1033 733h3V739h-3zM1033 988h3V994h-3zM1036 985h3V991h-3zM1039 742h3V754h-3zM1039 985h3V991h-3zM1042 991h3V994h-3zM1045 991h3V997h-3zM1048 742h3V751h-3zM1048 991h3V997h-3zM1051 724h3V733h-3zM1051 994h3V1000h-3zM1054 748h3V757h-3zM1054 994h3V997h-3zM1057 988h3V991h-3zM1060 988h3V994h-3zM1063 988h3V994h-3zM1066 994h3V1000h-3zM1069 991h3V997h-3zM1072 991h3V997h-3zM1075 988h3V994h-3zM1078 988h3V994h-3zM1081 988h3V994h-3zM1084 712h3V739h-3zM1084 991h3V997h-3zM1087 739h3V748h-3zM1087 988h3V994h-3zM1090 991h3V994h-3zM1093 730h3V733h-3zM1093 985h3V991h-3zM1096 994h3V997h-3zM1099 988h3V994h-3zM1102 982h3V985h-3zM1105 988h3V991h-3zM1108 997h3V1000h-3zM1111 991h3V997h-3zM1114 991h3V994h-3zM1117 994h3V997h-3zM1120 976h3V982h-3zM1123 979h3V985h-3zM1126 991h3V997h-3zM1129 697h3V700h-3zM1129 976h3V982h-3zM1132 997h3V1000h-3zM1135 622h3V664h-3zM1135 991h3V997h-3zM1138 991h3V997h-3zM1141 991h3V997h-3zM1144 667h3V700h-3zM1144 988h3V991h-3zM1147 994h3V997h-3zM1150 997h3V1000h-3zM1153 979h3V985h-3zM1156 979h3V982h-3zM1159 991h3V994h-3zM1162 688h3V694h-3zM1162 991h3V994h-3zM1165 661h3V691h-3zM1165 988h3V994h-3zM1168 985h3V991h-3zM1171 991h3V994h-3zM1174 691h3V697h-3zM1174 997h3V1000h-3zM1177 988h3V994h-3zM1180 991h3V997h-3zM1183 991h3V997h-3zM1186 985h3V988h-3zM1189 988h3V994h-3zM1192 994h3V997h-3zM1195 991h3V997h-3zM1198 628h3V640h-3zM1198 988h3V994h-3zM1201 988h3V994h-3zM1204 991h3V994h-3zM1207 706h3V709h-3zM1207 988h3V994h-3zM1210 703h3V727h-3zM1210 988h3V994h-3zM1213 631h3V649h-3zM1213 997h3V1000h-3zM1216 994h3V997h-3zM1219 994h3V997h-3zM1222 727h3V745h-3zM1222 991h3V994h-3zM1225 709h3V721h-3zM1225 988h3V994h-3zM1228 994h3V997h-3zM1231 994h3V997h-3zM1234 988h3V994h-3zM1237 991h3V994h-3zM1240 988h3V994h-3zM1243 751h3V766h-3zM1243 988h3V994h-3zM1246 988h3V991h-3zM1249 991h3V997h-3zM1252 988h3V994h-3zM1255 991h3V994h-3zM1258 988h3V994h-3zM1261 988h3V994h-3zM1264 982h3V985h-3zM1267 994h3V1000h-3zM1270 988h3V991h-3zM1273 991h3V997h-3zM1276 982h3V988h-3zM1279 988h3V994h-3zM1282 985h3V988h-3zM1285 991h3V994h-3zM1288 982h3V985h-3zM1291 994h3V997h-3zM1294 706h3V724h-3zM1294 994h3V1000h-3zM1297 994h3V997h-3zM1300 988h3V994h-3zM1303 712h3V718h-3zM1303 991h3V997h-3zM1306 988h3V994h-3zM1309 667h3V694h-3zM1309 985h3V991h-3zM1312 982h3V988h-3zM1315 988h3V994h-3zM1318 985h3V991h-3zM1321 988h3V994h-3zM1324 658h3V685h-3zM1324 994h3V1000h-3zM1327 988h3V994h-3zM1330 988h3V994h-3zM1333 688h3V697h-3zM1333 988h3V994h-3zM1336 991h3V994h-3zM1339 988h3V994h-3zM1342 676h3V712h-3zM1342 994h3V997h-3zM1345 985h3V991h-3zM1348 640h3V658h-3zM1348 988h3V994h-3zM1351 991h3V994h-3zM1354 985h3V991h-3zM1357 991h3V994h-3zM1360 991h3V994h-3zM1363 988h3V991h-3zM1366 988h3V991h-3zM1369 985h3V991h-3zM1372 661h3V679h-3zM1372 715h3V736h-3zM1372 988h3V994h-3zM1375 988h3V994h-3zM1378 706h3V718h-3zM1378 982h3V985h-3zM1381 979h3V985h-3zM1384 982h3V988h-3zM1387 988h3V994h-3zM1390 988h3V994h-3zM1393 994h3V1000h-3zM1396 664h3V694h-3zM1396 988h3V994h-3zM1399 673h3V685h-3zM1399 994h3V1000h-3zM1402 988h3V994h-3zM1405 994h3V997h-3zM1408 676h3V706h-3zM1408 994h3V997h-3zM1411 988h3V991h-3zM1414 991h3V997h-3zM1417 997h3V1000h-3zM1420 700h3V715h-3zM1420 988h3V994h-3zM1423 988h3V991h-3zM1426 991h3V997h-3zM1429 994h3V997h-3zM1432 994h3V997h-3zM1435 994h3V1000h-3zM1438 991h3V994h-3zM1441 682h3V718h-3zM1441 985h3V991h-3zM1444 994h3V1000h-3zM1447 991h3V997h-3zM1450 715h3V760h-3zM1450 991h3V994h-3zM1453 991h3V994h-3zM1456 988h3V994h-3zM1459 994h3V997h-3zM1462 718h3V748h-3zM1462 985h3V991h-3zM1465 988h3V994h-3zM1468 988h3V994h-3zM1471 985h3V991h-3zM1474 994h3V997h-3zM1477 991h3V994h-3zM1480 673h3V712h-3zM1480 985h3V991h-3zM1483 994h3V997h-3zM1486 991h3V994h-3zM1489 991h3V997h-3zM1492 991h3V997h-3zM1495 991h3V997h-3zM1498 994h3V997h-3zM1501 988h3V994h-3zM1504 691h3V712h-3zM1504 991h3V994h-3zM1507 988h3V994h-3zM1510 994h3V997h-3zM1513 982h3V988h-3zM1516 988h3V994h-3zM1519 988h3V991h-3zM1522 682h3V697h-3zM1522 991h3V997h-3zM1525 661h3V685h-3zM1525 988h3V994h-3zM1528 715h3V730h-3zM1528 991h3V994h-3zM1531 991h3V997h-3zM1534 988h3V994h-3zM1537 988h3V994h-3zM1540 991h3V994h-3zM1543 991h3V997h-3zM1546 991h3V997h-3zM1549 994h3V1000h-3zM1552 991h3V994h-3zM1555 709h3V724h-3zM1555 988h3V994h-3zM1558 655h3V679h-3zM1558 991h3V994h-3zM1561 991h3V997h-3zM1564 703h3V727h-3zM1564 994h3V997h-3zM1567 991h3V997h-3zM1570 991h3V994h-3zM1573 991h3V997h-3zM1576 994h3V1000h-3zM1579 661h3V682h-3zM1579 988h3V994h-3zM1582 991h3V994h-3zM1585 988h3V994h-3zM1588 991h3V997h-3zM1591 994h3V1000h-3zM1594 991h3V997h-3zM1597 724h3V739h-3zM1597 988h3V994h-3zM1600 988h3V994h-3zM1603 718h3V727h-3zM1603 991h3V994h-3zM1606 994h3V1000h-3zM1609 727h3V754h-3zM1609 991h3V997h-3zM1612 730h3V742h-3zM1612 994h3V1000h-3zM1615 991h3V997h-3zM1618 994h3V1000h-3zM1621 994h3V997h-3zM1624 724h3V745h-3zM1624 988h3V994h-3zM1627 688h3V733h-3zM1627 985h3V991h-3zM1630 763h3V775h-3zM1630 988h3V991h-3zM1633 988h3V991h-3zM1636 994h3V997h-3zM1639 988h3V994h-3zM1642 985h3V991h-3zM1645 988h3V994h-3zM1648 634h3V661h-3zM1648 988h3V994h-3zM1651 988h3V994h-3zM1654 997h3V1000h-3zM1657 988h3V994h-3zM1660 988h3V994h-3zM1663 988h3V994h-3zM1666 988h3V994h-3zM1669 979h3V982h-3zM1672 991h3V994h-3zM1675 991h3V997h-3zM1678 988h3V994h-3zM1681 991h3V997h-3zM1684 994h3V1000h-3zM1687 994h3V997h-3zM1690 994h3V1000h-3zM1693 991h3V994h-3zM1696 988h3V994h-3zM1699 988h3V994h-3zM1702 991h3V997h-3zM1705 985h3V988h-3zM1708 988h3V994h-3zM1711 988h3V994h-3zM1714 994h3V997h-3zM1717 988h3V994h-3zM1720 988h3V994h-3zM1723 994h3V997h-3zM1726 997h3V1000h-3zM1729 991h3V994h-3zM1732 991h3V997h-3zM1735 997h3V1000h-3zM1738 988h3V994h-3zM1741 991h3V997h-3zM1744 991h3V994h-3zM1747 988h3V991h-3zM1750 994h3V1000h-3zM1753 991h3V997h-3zM1756 991h3V994h-3zM1759 985h3V988h-3zM1762 988h3V994h-3zM1765 994h3V997h-3zM1768 994h3V997h-3zM1771 991h3V997h-3zM1774 988h3V994h-3zM1777 991h3V997h-3zM1780 988h3V994h-3zM1783 991h3V994h-3zM1786 991h3V997h-3zM1789 991h3V997h-3zM1792 988h3V994h-3zM1795 994h3V997h-3zM1798 568h3V619h-3zM1798 994h3V997h-3zM1801 994h3V997h-3zM1804 991h3V997h-3zM1807 994h3V997h-3zM1810 994h3V1000h-3zM1813 991h3V997h-3zM1816 976h3V982h-3zM1819 622h3V652h-3zM1819 988h3V994h-3zM1822 988h3V994h-3zM1825 988h3V994h-3zM1828 988h3V991h-3zM1831 556h3V601h-3zM1831 985h3V991h-3zM1834 991h3V994h-3zM1837 988h3V994h-3zM1840 988h3V994h-3zM1843 976h3V982h-3zM1846 979h3V985h-3zM1849 994h3V997h-3zM1852 994h3V997h-3zM1855 991h3V997h-3zM1858 991h3V997h-3zM1861 988h3V991h-3zM1864 997h3V1000h-3zM1867 988h3V994h-3zM1870 991h3V997h-3zM1873 991h3V994h-3zM1876 985h3V991h-3zM1879 991h3V994h-3zM1882 976h3V982h-3zM1885 979h3V985h-3zM1888 991h3V994h-3zM1891 988h3V994h-3zM1894 991h3V997h-3zM1897 988h3V994h-3zM1900 988h3V994h-3zM1903 991h3V997h-3zM1906 991h3V997h-3zM1909 988h3V994h-3zM1912 982h3V985h-3zM1915 994h3V1000h-3zM1918 991h3V994h-3zM1921 991h3V997h-3zM1924 985h3V991h-3zM1927 991h3V994h-3zM1930 988h3V994h-3zM1933 988h3V994h-3zM1936 994h3V1000h-3zM1939 988h3V994h-3zM1942 994h3V997h-3zM1945 985h3V991h-3zM1948 988h3V991h-3zM1951 790h3V796h-3zM1951 985h3V988h-3zM1954 988h3V991h-3zM1957 991h3V997h-3zM1960 994h3V997h-3zM1963 991h3V997h-3zM1966 988h3V994h-3zM1969 985h3V991h-3zM1972 985h3V988h-3zM1975 982h3V988h-3zM1978 985h3V988h-3zM1981 985h3V991h-3zM1984 988h3V994h-3zM1987 988h3V991h-3zM1990 976h3V982h-3zM1993 982h3V988h-3zM1996 985h3V991h-3zM1999 985h3V991h-3zM2002 988h3V994h-3zM2005 994h3V997h-3zM2008 988h3V994h-3zM2011 985h3V991h-3zM2014 988h3V994h-3zM2017 991h3V994h-3zM2020 979h3V985h-3zM2023 982h3V985h-3zM2026 991h3V997h-3zM2029 994h3V1000h-3zM2032 988h3V991h-3zM2035 988h3V991h-3zM2038 982h3V988h-3zM2041 790h3V817h-3zM2041 982h3V988h-3zM2044 982h3V988h-3zM2062 865h3V886h-3zM2071 832h3V853h-3zM2086 886h3V913h-3zM2089 802h3V817h-3zM2092 847h3V877h-3zM2110 868h3V901h-3zM2113 823h3V841h-3zM2116 850h3V862h-3zM2125 844h3V868h-3zM2143 883h3V901h-3zM2146 853h3V862h-3zM2152 874h3V892h-3zM2155 871h3V886h-3zM2179 844h3V847h-3z"/>
<path fill-opacity="0.5" d="M322 391h3V466h-3zM334 94h3V100h-3zM337 196h3V241h-3zM343 250h3V259h-3zM349 160h3V169h-3zM361 394h3V409h-3zM367 430h3V448h-3zM373 505h3V529h-3zM376 529h3V544h-3zM388 454h3V481h-3zM421 370h3V397h-3zM424 349h3V355h-3zM427 355h3V376h-3zM433 352h3V382h-3zM442 538h3V556h-3zM445 538h3V550h-3zM451 520h3V544h-3zM454 529h3V544h-3zM457 493h3V505h-3zM460 502h3V505h-3zM463 502h3V511h-3zM466 481h3V508h-3zM469 481h3V508h-3zM472 490h3V517h-3zM475 439h3V475h-3zM478 412h3V439h-3zM484 481h3V487h-3zM487 514h3V544h-3zM490 595h3V610h-3zM493 580h3V601h-3zM496 580h3V601h-3zM514 529h3V541h-3zM517 529h3V541h-3zM520 529h3V544h-3zM526 541h3V559h-3zM529 514h3V541h-3zM535 487h3V493h-3zM538 463h3V487h-3zM544 415h3V445h-3zM547 475h3V490h-3zM559 490h3V511h-3zM562 430h3V451h-3zM583 619h3V628h-3zM586 613h3V649h-3zM595 625h3V673h-3zM607 661h3V691h-3zM610 595h3V622h-3zM622 571h3V592h-3zM649 460h3V490h-3zM652 442h3V454h-3zM667 523h3V550h-3zM676 547h3V589h-3zM685 649h3V661h-3zM688 643h3V661h-3zM691 649h3V661h-3zM697 688h3V721h-3zM715 637h3V664h-3zM739 667h3V685h-3zM748 640h3V649h-3zM757 685h3V697h-3zM766 670h3V703h-3zM775 652h3V670h-3zM778 670h3V685h-3zM787 601h3V637h-3zM790 619h3V640h-3zM799 571h3V583h-3zM817 643h3V652h-3zM823 664h3V685h-3zM835 655h3V664h-3zM841 649h3V664h-3zM844 646h3V649h-3zM868 601h3V646h-3zM871 652h3V664h-3zM880 625h3V643h-3zM886 643h3V652h-3zM901 727h3V739h-3zM913 679h3V703h-3zM919 625h3V634h-3zM928 556h3V571h-3zM934 577h3V595h-3zM955 691h3V697h-3zM985 664h3V685h-3zM988 646h3V664h-3zM1009 685h3V700h-3zM1027 721h3V745h-3zM1036 736h3V748h-3zM1066 739h3V748h-3zM1090 730h3V754h-3zM1096 694h3V727h-3zM1102 709h3V715h-3zM1117 682h3V700h-3zM1120 670h3V700h-3zM1135 682h3V718h-3zM1147 682h3V694h-3zM1150 703h3V733h-3zM1165 709h3V730h-3zM1180 682h3V688h-3zM1186 652h3V670h-3zM1201 673h3V712h-3zM1213 694h3V742h-3zM1216 691h3V706h-3zM1231 712h3V739h-3zM1240 730h3V766h-3zM1267 724h3V730h-3zM1285 715h3V727h-3zM1297 733h3V751h-3zM1315 685h3V691h-3zM1348 676h3V688h-3zM1357 700h3V739h-3zM1381 709h3V739h-3zM1414 721h3V730h-3zM1429 721h3V736h-3zM1441 748h3V763h-3zM1477 718h3V727h-3zM1483 742h3V754h-3zM1534 718h3V736h-3zM1546 718h3V739h-3zM1558 679h3V721h-3zM1561 706h3V718h-3zM1570 670h3V697h-3zM1591 685h3V697h-3zM1600 736h3V748h-3zM1621 748h3V760h-3zM1636 700h3V730h-3zM1642 718h3V730h-3zM1654 661h3V691h-3zM1675 670h3V691h-3zM1690 664h3V670h-3zM1696 655h3V676h-3zM1711 673h3V685h-3zM1726 706h3V712h-3zM1732 649h3V688h-3zM1777 649h3V676h-3zM1783 658h3V682h-3zM1810 598h3V619h-3zM1816 631h3V643h-3zM1840 622h3V646h-3zM1852 577h3V604h-3zM1855 631h3V661h-3zM1864 643h3V652h-3zM1873 643h3V655h-3zM1879 694h3V721h-3zM1882 661h3V739h-3zM1903 661h3V670h-3zM1906 595h3V610h-3zM1912 589h3V613h-3zM1918 616h3V631h-3zM1921 679h3V700h-3zM1927 721h3V730h-3zM1933 616h3V631h-3zM1954 784h3V802h-3zM1960 784h3V802h-3zM1966 799h3V814h-3zM1972 751h3V784h-3zM2005 721h3V736h-3zM2017 802h3V820h-3zM2023 712h3V724h-3zM2050 856h3V871h-3zM2059 847h3V859h-3zM2071 877h3V889h-3zM2080 865h3V871h-3zM2113 880h3V895h-3zM2119 853h3V865h-3zM2140 844h3V877h-3zM2170 847h3V877h-3zM2176 826h3V829h-3zM2182 832h3V862h-3z"/>
<path fill-opacity="0.55" d="M328 253h3V277h-3zM394 529h3V553h-3zM400 460h3V466h-3zM412 301h3V331h-3zM418 295h3V307h-3zM550 430h3V469h-3zM634 529h3V532h-3zM661 514h3V547h-3zM742 634h3V646h-3zM796 592h3V607h-3zM805 547h3V583h-3zM856 598h3V649h-3zM865 613h3V649h-3zM904 715h3V721h-3zM946 655h3V694h-3zM1042 739h3V748h-3zM1060 739h3V742h-3zM1075 751h3V760h-3zM1078 748h3V766h-3zM1108 676h3V691h-3zM1132 676h3V697h-3zM1141 697h3V727h-3zM1153 682h3V709h-3zM1159 670h3V706h-3zM1171 682h3V697h-3zM1189 688h3V712h-3zM1228 721h3V730h-3zM1237 754h3V775h-3zM1282 715h3V742h-3zM1288 724h3V733h-3zM1306 703h3V715h-3zM1312 700h3V703h-3zM1318 694h3V703h-3zM1327 661h3V697h-3zM1351 694h3V703h-3zM1375 697h3V730h-3zM1387 697h3V730h-3zM1390 703h3V715h-3zM1411 688h3V727h-3zM1417 715h3V733h-3zM1432 703h3V733h-3zM1438 724h3V754h-3zM1474 760h3V769h-3zM1513 688h3V718h-3zM1540 682h3V691h-3zM1552 709h3V721h-3zM1582 694h3V715h-3zM1585 718h3V733h-3zM1594 709h3V718h-3zM1606 742h3V775h-3zM1615 751h3V754h-3zM1651 658h3V688h-3zM1843 601h3V622h-3zM1909 589h3V601h-3zM1933 631h3V691h-3zM1936 616h3V631h-3zM1978 748h3V781h-3zM1987 766h3V781h-3zM2047 982h3V994h-3zM2050 970h3V976h-3zM2053 844h3V856h-3zM2053 979h3V994h-3zM2056 988h3V1000h-3zM2059 940h3V952h-3zM2062 970h3V985h-3zM2065 850h3V862h-3zM2065 976h3V982h-3zM2068 964h3V979h-3zM2071 952h3V955h-3zM2074 964h3V976h-3zM2077 865h3V871h-3zM2077 928h3V943h-3zM2080 958h3V967h-3zM2083 853h3V859h-3zM2083 949h3V955h-3zM2086 979h3V982h-3zM2089 961h3V973h-3zM2092 976h3V985h-3zM2095 982h3V988h-3zM2098 874h3V886h-3zM2098 928h3V931h-3zM2101 985h3V991h-3zM2104 844h3V871h-3zM2104 985h3V997h-3zM2107 952h3V967h-3zM2110 937h3V949h-3zM2113 964h3V976h-3zM2116 976h3V979h-3zM2119 973h3V982h-3zM2122 940h3V949h-3zM2125 958h3V964h-3zM2128 961h3V970h-3zM2131 880h3V892h-3zM2131 967h3V976h-3zM2134 988h3V1003h-3zM2137 856h3V871h-3zM2137 946h3V955h-3zM2140 979h3V991h-3zM2143 931h3V943h-3zM2146 982h3V985h-3zM2149 961h3V973h-3zM2152 985h3V991h-3zM2155 979h3V985h-3zM2158 961h3V973h-3zM2161 973h3V979h-3zM2164 940h3V949h-3zM2167 949h3V964h-3zM2170 949h3V964h-3zM2173 817h3V829h-3zM2173 973h3V988h-3zM2176 964h3V973h-3zM2179 949h3V955h-3z"/>
<path fill-opacity="0.6" d="M316 454h3V460h-3zM319 310h3V385h-3zM325 328h3V346h-3zM340 271h3V301h-3zM358 403h3V430h-3zM364 352h3V391h-3zM367 448h3V472h-3zM379 541h3V571h-3zM382 547h3V565h-3zM397 469h3V493h-3zM403 424h3V466h-3zM406 364h3V388h-3zM430 286h3V382h-3zM436 490h3V508h-3zM451 544h3V553h-3zM484 487h3V544h-3zM502 628h3V649h-3zM505 604h3V625h-3zM508 589h3V601h-3zM523 544h3V562h-3zM541 430h3V436h-3zM547 490h3V502h-3zM553 442h3V454h-3zM556 463h3V511h-3zM562 451h3V469h-3zM565 490h3V517h-3zM568 514h3V541h-3zM571 478h3V514h-3zM574 523h3V538h-3zM580 478h3V511h-3zM589 691h3V697h-3zM592 640h3V676h-3zM598 631h3V643h-3zM604 640h3V658h-3zM610 622h3V640h-3zM616 619h3V640h-3zM619 589h3V619h-3zM625 574h3V586h-3zM628 574h3V583h-3zM631 544h3V568h-3zM637 490h3V508h-3zM643 514h3V523h-3zM646 490h3V511h-3zM658 499h3V526h-3zM664 514h3V529h-3zM670 502h3V541h-3zM682 643h3V652h-3zM685 661h3V670h-3zM694 616h3V628h-3zM706 685h3V706h-3zM715 664h3V679h-3zM718 679h3V709h-3zM721 685h3V703h-3zM724 679h3V715h-3zM727 664h3V676h-3zM730 676h3V691h-3zM733 685h3V703h-3zM736 685h3V697h-3zM745 667h3V682h-3zM763 670h3V688h-3zM772 652h3V670h-3zM778 685h3V697h-3zM784 634h3V643h-3zM793 664h3V685h-3zM802 574h3V580h-3zM808 532h3V550h-3zM811 583h3V589h-3zM814 622h3V634h-3zM820 655h3V685h-3zM826 631h3V646h-3zM832 703h3V715h-3zM847 664h3V691h-3zM883 592h3V610h-3zM889 655h3V667h-3zM892 718h3V736h-3zM895 718h3V733h-3zM898 730h3V742h-3zM910 715h3V730h-3zM916 634h3V655h-3zM922 613h3V658h-3zM937 571h3V595h-3zM943 601h3V613h-3zM949 682h3V703h-3zM952 691h3V709h-3zM958 709h3V721h-3zM961 703h3V715h-3zM964 682h3V706h-3zM982 682h3V700h-3zM988 664h3V685h-3zM997 691h3V703h-3zM1000 688h3V703h-3zM1003 685h3V700h-3zM1012 697h3V712h-3zM1021 691h3V712h-3zM1045 742h3V757h-3zM1057 736h3V739h-3zM1063 736h3V739h-3zM1069 739h3V757h-3zM1072 736h3V739h-3zM1081 724h3V733h-3zM1099 730h3V736h-3zM1105 715h3V718h-3zM1111 721h3V730h-3zM1114 679h3V697h-3zM1123 676h3V685h-3zM1126 706h3V727h-3zM1138 670h3V688h-3zM1156 685h3V700h-3zM1168 688h3V697h-3zM1177 667h3V685h-3zM1183 685h3V691h-3zM1192 649h3V661h-3zM1195 670h3V703h-3zM1198 667h3V691h-3zM1204 685h3V691h-3zM1234 718h3V730h-3zM1246 730h3V742h-3zM1249 715h3V733h-3zM1255 733h3V760h-3zM1258 718h3V730h-3zM1261 730h3V733h-3zM1264 763h3V769h-3zM1270 730h3V751h-3zM1273 721h3V739h-3zM1276 712h3V763h-3zM1279 724h3V727h-3zM1291 736h3V745h-3zM1309 715h3V721h-3zM1321 700h3V739h-3zM1324 706h3V718h-3zM1330 679h3V688h-3zM1336 673h3V691h-3zM1339 697h3V712h-3zM1345 721h3V745h-3zM1354 697h3V703h-3zM1360 688h3V706h-3zM1363 715h3V730h-3zM1366 718h3V721h-3zM1369 718h3V727h-3zM1384 742h3V748h-3zM1393 697h3V739h-3zM1402 706h3V718h-3zM1405 739h3V772h-3zM1423 685h3V709h-3zM1426 721h3V742h-3zM1435 730h3V751h-3zM1444 718h3V736h-3zM1447 739h3V745h-3zM1453 715h3V730h-3zM1456 685h3V700h-3zM1459 721h3V754h-3zM1465 727h3V739h-3zM1468 733h3V760h-3zM1471 703h3V712h-3zM1480 724h3V739h-3zM1486 685h3V700h-3zM1495 727h3V748h-3zM1498 700h3V721h-3zM1501 724h3V757h-3zM1507 712h3V724h-3zM1510 721h3V724h-3zM1516 700h3V703h-3zM1519 694h3V736h-3zM1525 727h3V739h-3zM1531 691h3V700h-3zM1537 724h3V730h-3zM1543 697h3V706h-3zM1567 682h3V697h-3zM1573 703h3V715h-3zM1576 640h3V697h-3zM1579 682h3V700h-3zM1588 703h3V715h-3zM1618 721h3V754h-3zM1627 748h3V757h-3zM1633 754h3V757h-3zM1639 712h3V724h-3zM1645 712h3V724h-3zM1648 661h3V685h-3zM1657 673h3V700h-3zM1663 628h3V652h-3zM1666 673h3V676h-3zM1669 649h3V652h-3zM1672 673h3V676h-3zM1681 649h3V661h-3zM1684 616h3V622h-3zM1687 646h3V664h-3zM1693 640h3V655h-3zM1699 634h3V649h-3zM1702 658h3V682h-3zM1705 658h3V661h-3zM1708 640h3V661h-3zM1714 718h3V724h-3zM1720 667h3V694h-3zM1723 706h3V721h-3zM1735 712h3V724h-3zM1741 652h3V676h-3zM1744 646h3V658h-3zM1747 652h3V670h-3zM1750 652h3V691h-3zM1753 640h3V649h-3zM1756 640h3V658h-3zM1759 661h3V682h-3zM1762 664h3V682h-3zM1765 634h3V670h-3zM1768 646h3V670h-3zM1771 703h3V709h-3zM1777 628h3V649h-3zM1780 676h3V700h-3zM1786 682h3V703h-3zM1789 676h3V703h-3zM1792 706h3V715h-3zM1798 619h3V640h-3zM1801 643h3V655h-3zM1804 640h3V646h-3zM1807 637h3V643h-3zM1810 619h3V640h-3zM1819 652h3V658h-3zM1822 652h3V661h-3zM1825 649h3V661h-3zM1828 661h3V673h-3zM1831 601h3V619h-3zM1834 643h3V655h-3zM1837 643h3V667h-3zM1840 646h3V667h-3zM1846 658h3V679h-3zM1849 643h3V652h-3zM1858 631h3V649h-3zM1861 631h3V649h-3zM1864 652h3V661h-3zM1870 643h3V655h-3zM1873 655h3V670h-3zM1876 640h3V676h-3zM1885 727h3V733h-3zM1888 721h3V745h-3zM1894 703h3V739h-3zM1900 667h3V676h-3zM1906 610h3V628h-3zM1915 652h3V673h-3zM1924 748h3V796h-3zM1930 715h3V733h-3zM1939 631h3V652h-3zM1942 634h3V649h-3zM1945 634h3V640h-3zM1948 766h3V772h-3zM1951 796h3V808h-3zM1957 781h3V784h-3zM1963 760h3V772h-3zM1969 778h3V784h-3zM1972 784h3V811h-3zM1975 781h3V811h-3zM1981 829h3V850h-3zM1984 706h3V769h-3zM1990 820h3V844h-3zM1993 826h3V850h-3zM1996 805h3V829h-3zM1999 778h3V787h-3zM2002 739h3V760h-3zM2008 799h3V829h-3zM2011 784h3V811h-3zM2014 820h3V844h-3zM2020 739h3V769h-3zM2023 724h3V736h-3zM2026 760h3V790h-3zM2029 805h3V829h-3zM2032 745h3V769h-3zM2044 844h3V871h-3zM2047 817h3V850h-3zM2056 850h3V877h-3zM2068 871h3V901h-3zM2074 874h3V886h-3zM2089 859h3V877h-3zM2095 880h3V892h-3zM2101 853h3V886h-3zM2107 880h3V895h-3zM2122 880h3V904h-3zM2128 886h3V910h-3zM2134 874h3V898h-3zM2149 838h3V856h-3zM2158 847h3V862h-3zM2161 859h3V868h-3zM2164 841h3V871h-3zM2167 829h3V856h-3z"/>
<path fill-opacity="0.65" d="M334 100h3V190h-3zM409 265h3V310h-3zM481 487h3V499h-3z"/>
<path fill-opacity="0.7" d="M313 430h3V499h-3zM331 190h3V262h-3zM415 298h3V340h-3zM454 544h3V559h-3zM487 544h3V571h-3zM499 601h3V640h-3zM559 511h3V529h-3zM571 514h3V541h-3zM577 487h3V490h-3zM583 628h3V640h-3zM586 649h3V670h-3zM601 628h3V640h-3zM613 655h3V685h-3zM622 592h3V610h-3zM646 511h3V535h-3zM655 442h3V472h-3zM673 481h3V490h-3zM679 634h3V649h-3zM700 664h3V691h-3zM703 703h3V709h-3zM739 685h3V697h-3zM748 649h3V673h-3zM769 676h3V691h-3zM772 670h3V712h-3zM781 670h3V688h-3zM790 664h3V700h-3zM799 583h3V589h-3zM805 583h3V604h-3zM829 664h3V706h-3zM841 664h3V694h-3zM862 604h3V622h-3zM880 643h3V661h-3zM907 730h3V742h-3zM916 655h3V670h-3zM928 571h3V595h-3zM931 529h3V538h-3zM955 697h3V709h-3zM967 682h3V694h-3zM970 694h3V706h-3zM994 685h3V700h-3zM1024 715h3V721h-3zM1027 745h3V751h-3zM1033 739h3V751h-3zM1036 748h3V766h-3zM1042 748h3V769h-3zM1066 748h3V751h-3zM1075 760h3V772h-3zM1090 754h3V763h-3zM1132 697h3V709h-3zM1222 745h3V754h-3zM1228 730h3V751h-3zM1231 739h3V748h-3zM1237 775h3V784h-3zM1243 766h3V787h-3zM1249 733h3V751h-3zM1252 733h3V736h-3zM1267 730h3V739h-3zM1273 739h3V775h-3zM1279 727h3V733h-3zM1291 745h3V751h-3zM1306 715h3V727h-3zM1333 697h3V709h-3zM1342 712h3V724h-3zM1393 739h3V754h-3zM1405 772h3V781h-3zM1414 730h3V739h-3zM1459 754h3V769h-3zM1486 700h3V730h-3zM1495 748h3V754h-3zM1501 757h3V772h-3zM1504 712h3V739h-3zM1516 703h3V706h-3zM1519 736h3V748h-3zM1555 724h3V739h-3zM1561 718h3V727h-3zM1564 727h3V739h-3zM1567 697h3V727h-3zM1576 697h3V712h-3zM1588 715h3V733h-3zM1591 697h3V727h-3zM1594 718h3V724h-3zM1597 739h3V754h-3zM1603 727h3V736h-3zM1612 742h3V745h-3zM1618 754h3V793h-3zM1654 691h3V712h-3zM1660 661h3V673h-3zM1693 655h3V670h-3zM1717 718h3V730h-3zM1726 712h3V724h-3zM1729 745h3V760h-3zM1741 676h3V700h-3zM1747 670h3V694h-3zM1774 706h3V715h-3zM1777 676h3V703h-3zM1783 682h3V703h-3zM1858 649h3V664h-3zM1897 757h3V799h-3zM1909 601h3V613h-3zM1927 730h3V748h-3zM1933 691h3V721h-3zM1954 802h3V823h-3zM1960 802h3V826h-3zM1987 781h3V799h-3zM2005 760h3V790h-3zM2020 769h3V811h-3zM2038 811h3V835h-3zM2050 871h3V874h-3zM2104 871h3V898h-3zM2113 895h3V916h-3zM2137 871h3V880h-3zM2161 868h3V889h-3zM2170 877h3V889h-3z"/>
<path fill-opacity="0.75" d="M346 190h3V250h-3zM352 97h3V181h-3zM379 571h3V601h-3zM391 532h3V544h-3zM394 553h3V574h-3zM433 382h3V508h-3zM442 556h3V589h-3zM478 439h3V463h-3zM511 541h3V577h-3zM859 598h3V625h-3zM883 610h3V643h-3zM940 532h3V571h-3zM1891 697h3V721h-3zM1894 739h3V772h-3z"/>
<path fill-opacity="0.8" d="M313 979h3V988h-3zM316 979h3V988h-3zM319 982h3V988h-3zM322 970h3V979h-3zM325 346h3V394h-3zM325 982h3V988h-3zM328 985h3V994h-3zM331 982h3V985h-3zM334 979h3V985h-3zM337 985h3V991h-3zM340 973h3V982h-3zM343 259h3V352h-3zM343 979h3V988h-3zM346 982h3V988h-3zM349 982h3V988h-3zM352 988h3V994h-3zM355 979h3V988h-3zM358 988h3V994h-3zM361 409h3V430h-3zM361 982h3V991h-3zM364 988h3V991h-3zM367 472h3V526h-3zM367 970h3V976h-3zM370 526h3V559h-3zM370 958h3V988h-3zM373 979h3V985h-3zM376 544h3V571h-3zM376 979h3V991h-3zM379 985h3V991h-3zM382 565h3V634h-3zM382 985h3V997h-3zM385 508h3V538h-3zM385 982h3V991h-3zM388 481h3V496h-3zM388 982h3V988h-3zM391 982h3V988h-3zM394 985h3V991h-3zM397 493h3V547h-3zM397 988h3V994h-3zM400 466h3V499h-3zM400 985h3V997h-3zM403 982h3V994h-3zM406 985h3V991h-3zM409 310h3V322h-3zM409 979h3V985h-3zM412 331h3V358h-3zM412 970h3V991h-3zM415 964h3V985h-3zM418 307h3V328h-3zM418 979h3V988h-3zM421 397h3V421h-3zM421 994h3V997h-3zM424 985h3V991h-3zM427 376h3V430h-3zM427 982h3V994h-3zM430 964h3V994h-3zM433 976h3V988h-3zM436 970h3V991h-3zM439 538h3V580h-3zM439 979h3V988h-3zM442 985h3V991h-3zM445 550h3V595h-3zM445 982h3V988h-3zM448 487h3V526h-3zM448 988h3V994h-3zM451 553h3V589h-3zM451 979h3V991h-3zM454 985h3V991h-3zM457 505h3V520h-3zM457 982h3V988h-3zM460 505h3V520h-3zM460 991h3V994h-3zM463 511h3V514h-3zM463 985h3V988h-3zM466 508h3V529h-3zM466 976h3V988h-3zM469 508h3V529h-3zM469 973h3V982h-3zM472 517h3V535h-3zM472 991h3V997h-3zM475 475h3V487h-3zM475 976h3V988h-3zM478 982h3V991h-3zM481 973h3V979h-3zM484 544h3V559h-3zM484 985h3V991h-3zM487 982h3V994h-3zM490 610h3V625h-3zM490 982h3V988h-3zM493 601h3V640h-3zM493 979h3V988h-3zM496 601h3V625h-3zM496 982h3V991h-3zM499 976h3V988h-3zM502 985h3V994h-3zM505 982h3V994h-3zM508 985h3V988h-3zM511 988h3V991h-3zM514 985h3V991h-3zM517 976h3V988h-3zM520 544h3V556h-3zM520 982h3V988h-3zM523 562h3V592h-3zM523 985h3V991h-3zM526 559h3V592h-3zM526 982h3V994h-3zM529 973h3V994h-3zM532 496h3V520h-3zM532 973h3V982h-3zM535 493h3V511h-3zM535 988h3V991h-3zM538 487h3V499h-3zM538 979h3V991h-3zM541 976h3V988h-3zM544 445h3V469h-3zM544 982h3V985h-3zM547 982h3V988h-3zM550 469h3V502h-3zM550 985h3V988h-3zM553 976h3V988h-3zM556 976h3V985h-3zM559 982h3V988h-3zM562 955h3V985h-3zM565 517h3V532h-3zM565 991h3V994h-3zM568 979h3V994h-3zM571 988h3V994h-3zM574 985h3V991h-3zM577 490h3V499h-3zM577 979h3V988h-3zM580 511h3V577h-3zM580 988h3V994h-3zM583 979h3V994h-3zM586 982h3V994h-3zM589 982h3V985h-3zM592 985h3V991h-3zM595 979h3V988h-3zM598 979h3V985h-3zM601 988h3V994h-3zM604 979h3V988h-3zM607 982h3V988h-3zM610 640h3V661h-3zM610 988h3V994h-3zM613 982h3V994h-3zM616 640h3V661h-3zM616 985h3V994h-3zM619 619h3V640h-3zM619 967h3V988h-3zM622 610h3V634h-3zM622 982h3V991h-3zM625 586h3V610h-3zM625 982h3V988h-3zM628 976h3V988h-3zM631 568h3V583h-3zM631 976h3V979h-3zM634 961h3V991h-3zM637 982h3V991h-3zM640 514h3V520h-3zM640 982h3V988h-3zM643 982h3V994h-3zM646 982h3V988h-3zM649 490h3V496h-3zM649 961h3V991h-3zM652 454h3V472h-3zM652 979h3V985h-3zM655 973h3V982h-3zM658 982h3V988h-3zM661 985h3V988h-3zM664 994h3V997h-3zM667 979h3V994h-3zM670 988h3V994h-3zM673 490h3V508h-3zM673 982h3V994h-3zM676 589h3V625h-3zM676 979h3V988h-3zM679 982h3V988h-3zM682 976h3V985h-3zM685 670h3V706h-3zM685 985h3V988h-3zM688 985h3V988h-3zM691 661h3V697h-3zM691 982h3V988h-3zM694 628h3V649h-3zM694 976h3V982h-3zM697 985h3V988h-3zM700 982h3V991h-3zM703 991h3V994h-3zM706 988h3V991h-3zM709 706h3V709h-3zM709 979h3V985h-3zM712 973h3V985h-3zM715 988h3V994h-3zM718 988h3V994h-3zM721 982h3V988h-3zM724 985h3V988h-3zM727 676h3V718h-3zM727 979h3V991h-3zM730 976h3V988h-3zM733 988h3V997h-3zM736 976h3V985h-3zM739 985h3V991h-3zM742 646h3V667h-3zM742 979h3V994h-3zM745 982h3V985h-3zM748 970h3V985h-3zM751 979h3V991h-3zM754 979h3V991h-3zM757 988h3V994h-3zM760 982h3V985h-3zM763 688h3V703h-3zM763 976h3V997h-3zM766 979h3V991h-3zM769 973h3V994h-3zM772 988h3V991h-3zM775 670h3V688h-3zM775 985h3V988h-3zM778 982h3V991h-3zM781 982h3V988h-3zM784 982h3V991h-3zM787 991h3V994h-3zM790 946h3V976h-3zM793 685h3V700h-3zM793 985h3V988h-3zM796 607h3V619h-3zM796 985h3V994h-3zM799 985h3V988h-3zM802 580h3V601h-3zM802 982h3V988h-3zM805 991h3V997h-3zM808 958h3V988h-3zM811 988h3V994h-3zM814 973h3V982h-3zM817 982h3V988h-3zM820 967h3V988h-3zM823 985h3V994h-3zM826 982h3V988h-3zM829 988h3V997h-3zM832 985h3V994h-3zM835 982h3V988h-3zM838 985h3V991h-3zM841 979h3V991h-3zM844 982h3V988h-3zM847 988h3V994h-3zM850 664h3V676h-3zM850 979h3V982h-3zM853 982h3V988h-3zM856 994h3V997h-3zM859 982h3V988h-3zM862 964h3V985h-3zM865 982h3V985h-3zM868 982h3V988h-3zM871 979h3V985h-3zM874 985h3V991h-3zM877 988h3V991h-3zM880 985h3V994h-3zM883 979h3V988h-3zM886 973h3V988h-3zM889 985h3V991h-3zM892 988h3V994h-3zM895 976h3V988h-3zM898 982h3V991h-3zM901 985h3V994h-3zM904 976h3V988h-3zM907 985h3V991h-3zM910 985h3V991h-3zM913 991h3V997h-3zM916 988h3V991h-3zM919 988h3V997h-3zM922 988h3V994h-3zM925 985h3V994h-3zM928 988h3V994h-3zM931 982h3V985h-3zM934 595h3V610h-3zM934 979h3V985h-3zM937 970h3V982h-3zM940 964h3V976h-3zM943 967h3V979h-3zM946 979h3V985h-3zM949 982h3V988h-3zM952 991h3V994h-3zM955 979h3V988h-3zM958 988h3V994h-3zM961 979h3V985h-3zM964 706h3V712h-3zM964 982h3V988h-3zM967 982h3V988h-3zM970 979h3V988h-3zM973 985h3V994h-3zM976 985h3V991h-3zM979 682h3V700h-3zM979 976h3V988h-3zM982 700h3V715h-3zM982 982h3V988h-3zM985 976h3V979h-3zM988 979h3V985h-3zM991 982h3V991h-3zM994 982h3V988h-3zM997 985h3V994h-3zM1000 988h3V997h-3zM1003 982h3V997h-3zM1006 685h3V691h-3zM1006 976h3V991h-3zM1009 982h3V988h-3zM1012 976h3V988h-3zM1015 685h3V688h-3zM1015 970h3V979h-3zM1018 958h3V988h-3zM1021 982h3V991h-3zM1024 985h3V991h-3zM1027 985h3V994h-3zM1030 979h3V991h-3zM1033 976h3V988h-3zM1036 976h3V985h-3zM1039 754h3V775h-3zM1039 973h3V985h-3zM1042 988h3V991h-3zM1045 757h3V766h-3zM1045 982h3V991h-3zM1048 751h3V760h-3zM1048 985h3V991h-3zM1051 991h3V994h-3zM1054 988h3V994h-3zM1057 979h3V988h-3zM1060 976h3V988h-3zM1063 985h3V988h-3zM1066 991h3V994h-3zM1069 757h3V769h-3zM1069 988h3V991h-3zM1072 988h3V991h-3zM1075 958h3V988h-3zM1078 985h3V988h-3zM1081 976h3V988h-3zM1084 982h3V991h-3zM1087 985h3V988h-3zM1090 979h3V991h-3zM1093 979h3V985h-3zM1096 991h3V994h-3zM1099 736h3V739h-3zM1099 976h3V988h-3zM1102 976h3V982h-3zM1105 718h3V721h-3zM1105 976h3V988h-3zM1108 991h3V997h-3zM1111 730h3V742h-3zM1111 979h3V991h-3zM1114 697h3V721h-3zM1114 985h3V991h-3zM1117 700h3V706h-3zM1117 985h3V994h-3zM1120 967h3V976h-3zM1123 685h3V697h-3zM1123 967h3V979h-3zM1126 988h3V991h-3zM1129 700h3V712h-3zM1129 970h3V976h-3zM1132 988h3V997h-3zM1135 985h3V991h-3zM1138 688h3V712h-3zM1138 988h3V991h-3zM1141 982h3V991h-3zM1144 700h3V724h-3zM1144 982h3V988h-3zM1147 982h3V994h-3zM1150 733h3V745h-3zM1150 994h3V997h-3zM1153 958h3V979h-3zM1156 973h3V979h-3zM1159 706h3V751h-3zM1159 988h3V991h-3zM1162 985h3V991h-3zM1165 982h3V988h-3zM1168 955h3V985h-3zM1171 697h3V706h-3zM1171 985h3V991h-3zM1174 697h3V703h-3zM1174 976h3V997h-3zM1177 685h3V718h-3zM1177 985h3V988h-3zM1180 988h3V991h-3zM1183 985h3V991h-3zM1186 670h3V712h-3zM1186 979h3V985h-3zM1189 982h3V988h-3zM1192 964h3V994h-3zM1195 703h3V721h-3zM1195 988h3V991h-3zM1198 691h3V718h-3zM1198 979h3V988h-3zM1201 712h3V730h-3zM1201 982h3V988h-3zM1204 979h3V991h-3zM1207 985h3V988h-3zM1210 979h3V988h-3zM1213 991h3V997h-3zM1216 988h3V994h-3zM1219 964h3V994h-3zM1222 985h3V991h-3zM1225 721h3V730h-3zM1225 985h3V988h-3zM1228 988h3V994h-3zM1231 982h3V994h-3zM1234 967h3V988h-3zM1237 979h3V991h-3zM1240 766h3V796h-3zM1240 982h3V988h-3zM1243 976h3V988h-3zM1246 742h3V745h-3zM1246 979h3V988h-3zM1249 985h3V991h-3zM1252 976h3V988h-3zM1255 760h3V775h-3zM1255 982h3V991h-3zM1258 730h3V733h-3zM1258 982h3V988h-3zM1261 982h3V988h-3zM1264 769h3V787h-3zM1264 979h3V982h-3zM1267 991h3V994h-3zM1270 982h3V988h-3zM1273 982h3V991h-3zM1276 970h3V982h-3zM1279 985h3V988h-3zM1282 742h3V751h-3zM1282 964h3V985h-3zM1285 988h3V991h-3zM1288 733h3V745h-3zM1288 976h3V982h-3zM1291 979h3V994h-3zM1294 724h3V742h-3zM1294 985h3V994h-3zM1297 751h3V757h-3zM1297 982h3V994h-3zM1300 703h3V706h-3zM1300 976h3V988h-3zM1303 961h3V991h-3zM1306 976h3V988h-3zM1309 721h3V730h-3zM1309 973h3V985h-3zM1312 976h3V982h-3zM1315 976h3V988h-3zM1318 703h3V727h-3zM1318 976h3V985h-3zM1321 982h3V988h-3zM1324 718h3V730h-3zM1324 988h3V994h-3zM1327 979h3V988h-3zM1330 976h3V988h-3zM1333 979h3V988h-3zM1336 988h3V991h-3zM1339 712h3V745h-3zM1339 979h3V988h-3zM1342 991h3V994h-3zM1345 982h3V985h-3zM1348 688h3V709h-3zM1348 982h3V988h-3zM1351 988h3V991h-3zM1354 976h3V985h-3zM1357 739h3V748h-3zM1357 979h3V991h-3zM1360 982h3V991h-3zM1363 730h3V745h-3zM1363 979h3V988h-3zM1366 979h3V988h-3zM1369 727h3V733h-3zM1369 979h3V985h-3zM1372 976h3V988h-3zM1375 976h3V988h-3zM1378 718h3V733h-3zM1378 976h3V982h-3zM1381 973h3V979h-3zM1384 970h3V982h-3zM1387 982h3V988h-3zM1390 715h3V727h-3zM1390 982h3V988h-3zM1393 964h3V994h-3zM1396 976h3V988h-3zM1399 685h3V706h-3zM1399 982h3V994h-3zM1402 718h3V733h-3zM1402 982h3V988h-3zM1405 979h3V994h-3zM1408 988h3V994h-3zM1411 979h3V988h-3zM1414 985h3V991h-3zM1417 733h3V769h-3zM1417 991h3V997h-3zM1420 715h3V736h-3zM1420 985h3V988h-3zM1423 958h3V988h-3zM1426 982h3V991h-3zM1429 982h3V994h-3zM1432 985h3V994h-3zM1435 988h3V994h-3zM1438 985h3V991h-3zM1441 976h3V985h-3zM1444 988h3V994h-3zM1447 982h3V991h-3zM1450 982h3V991h-3zM1453 982h3V991h-3zM1456 982h3V988h-3zM1459 991h3V994h-3zM1462 979h3V985h-3zM1465 982h3V988h-3zM1468 982h3V988h-3zM1471 979h3V985h-3zM1474 982h3V994h-3zM1477 976h3V991h-3zM1480 982h3V985h-3zM1483 991h3V994h-3zM1486 976h3V991h-3zM1489 988h3V991h-3zM1492 715h3V718h-3zM1492 979h3V991h-3zM1495 985h3V991h-3zM1498 991h3V994h-3zM1501 985h3V988h-3zM1504 976h3V991h-3zM1507 724h3V733h-3zM1507 979h3V988h-3zM1510 973h3V994h-3zM1513 718h3V748h-3zM1513 976h3V982h-3zM1516 982h3V988h-3zM1519 979h3V988h-3zM1522 988h3V991h-3zM1525 739h3V766h-3zM1525 982h3V988h-3zM1528 985h3V991h-3zM1531 985h3V991h-3zM1534 982h3V988h-3zM1537 982h3V988h-3zM1540 988h3V991h-3zM1543 982h3V991h-3zM1546 979h3V991h-3zM1549 703h3V706h-3zM1549 991h3V994h-3zM1552 721h3V733h-3zM1552 982h3V991h-3zM1555 982h3V988h-3zM1558 721h3V733h-3zM1558 979h3V991h-3zM1561 979h3V991h-3zM1564 982h3V994h-3zM1567 979h3V991h-3zM1570 697h3V721h-3zM1570 979h3V991h-3zM1573 715h3V727h-3zM1573 988h3V991h-3zM1576 988h3V994h-3zM1579 700h3V733h-3zM1579 982h3V988h-3zM1582 715h3V724h-3zM1582 985h3V991h-3zM1585 985h3V988h-3zM1588 982h3V991h-3zM1591 991h3V994h-3zM1594 985h3V991h-3zM1597 982h3V988h-3zM1600 973h3V988h-3zM1603 982h3V991h-3zM1606 775h3V802h-3zM1606 991h3V994h-3zM1609 982h3V991h-3zM1612 988h3V994h-3zM1615 754h3V760h-3zM1615 988h3V991h-3zM1618 982h3V994h-3zM1621 988h3V994h-3zM1624 979h3V988h-3zM1627 979h3V985h-3zM1630 985h3V988h-3zM1633 757h3V763h-3zM1633 979h3V988h-3zM1636 991h3V994h-3zM1639 985h3V988h-3zM1642 976h3V985h-3zM1645 982h3V988h-3zM1648 982h3V988h-3zM1651 688h3V700h-3zM1651 976h3V988h-3zM1654 991h3V997h-3zM1657 700h3V712h-3zM1657 958h3V988h-3zM1660 979h3V988h-3zM1663 982h3V988h-3zM1666 979h3V988h-3zM1669 976h3V979h-3zM1672 985h3V991h-3zM1675 979h3V991h-3zM1678 985h3V988h-3zM1681 985h3V991h-3zM1684 991h3V994h-3zM1687 985h3V994h-3zM1690 988h3V994h-3zM1693 970h3V991h-3zM1696 979h3V988h-3zM1699 982h3V988h-3zM1702 988h3V991h-3zM1705 661h3V682h-3zM1705 973h3V985h-3zM1708 967h3V988h-3zM1711 982h3V988h-3zM1714 982h3V994h-3zM1717 985h3V988h-3zM1720 976h3V988h-3zM1723 991h3V994h-3zM1726 988h3V997h-3zM1729 985h3V991h-3zM1732 985h3V991h-3zM1735 991h3V997h-3zM1738 982h3V988h-3zM1741 979h3V991h-3zM1744 658h3V694h-3zM1744 988h3V991h-3zM1747 982h3V988h-3zM1750 985h3V994h-3zM1753 982h3V991h-3zM1756 988h3V991h-3zM1759 976h3V985h-3zM1762 976h3V988h-3zM1765 985h3V994h-3zM1768 985h3V994h-3zM1771 985h3V991h-3zM1774 979h3V988h-3zM1777 985h3V991h-3zM1780 982h3V988h-3zM1783 985h3V991h-3zM1786 982h3V991h-3zM1789 982h3V991h-3zM1792 985h3V988h-3zM1795 982h3V994h-3zM1798 640h3V667h-3zM1798 988h3V994h-3zM1801 655h3V670h-3zM1801 973h3V994h-3zM1804 646h3V670h-3zM1804 976h3V991h-3zM1807 985h3V994h-3zM1810 982h3V994h-3zM1813 640h3V649h-3zM1813 985h3V991h-3zM1816 643h3V652h-3zM1816 970h3V976h-3zM1819 658h3V685h-3zM1819 979h3V988h-3zM1822 958h3V988h-3zM1825 985h3V988h-3zM1828 976h3V988h-3zM1831 973h3V985h-3zM1834 655h3V664h-3zM1834 985h3V991h-3zM1837 982h3V988h-3zM1840 985h3V988h-3zM1843 622h3V649h-3zM1843 967h3V976h-3zM1846 970h3V979h-3zM1849 985h3V994h-3zM1852 988h3V994h-3zM1855 985h3V991h-3zM1858 979h3V991h-3zM1861 979h3V988h-3zM1864 985h3V997h-3zM1867 985h3V988h-3zM1870 655h3V670h-3zM1870 976h3V991h-3zM1873 985h3V991h-3zM1876 979h3V985h-3zM1879 985h3V991h-3zM1882 970h3V976h-3zM1885 973h3V979h-3zM1888 745h3V766h-3zM1888 985h3V991h-3zM1891 982h3V988h-3zM1894 985h3V991h-3zM1897 985h3V988h-3zM1900 676h3V721h-3zM1900 979h3V988h-3zM1903 988h3V991h-3zM1906 982h3V991h-3zM1909 982h3V988h-3zM1912 973h3V982h-3zM1915 988h3V994h-3zM1918 631h3V670h-3zM1918 985h3V991h-3zM1921 988h3V991h-3zM1924 976h3V985h-3zM1927 961h3V991h-3zM1930 967h3V988h-3zM1933 721h3V748h-3zM1933 982h3V988h-3zM1936 631h3V676h-3zM1936 991h3V994h-3zM1939 979h3V988h-3zM1942 967h3V994h-3zM1945 982h3V985h-3zM1948 979h3V988h-3zM1951 808h3V820h-3zM1951 976h3V985h-3zM1954 970h3V988h-3zM1957 982h3V991h-3zM1960 988h3V994h-3zM1963 970h3V991h-3zM1966 814h3V829h-3zM1966 979h3V988h-3zM1969 976h3V985h-3zM1972 973h3V985h-3zM1975 811h3V829h-3zM1975 970h3V982h-3zM1978 973h3V985h-3zM1981 973h3V985h-3zM1984 982h3V988h-3zM1987 985h3V988h-3zM1990 970h3V976h-3zM1993 967h3V982h-3zM1996 967h3V985h-3zM1999 979h3V985h-3zM2002 979h3V988h-3zM2005 736h3V760h-3zM2005 982h3V994h-3zM2008 976h3V988h-3zM2011 973h3V985h-3zM2014 976h3V988h-3zM2017 820h3V841h-3zM2017 979h3V991h-3zM2020 970h3V979h-3zM2023 970h3V982h-3zM2026 979h3V991h-3zM2029 982h3V994h-3zM2032 979h3V988h-3zM2035 778h3V814h-3zM2035 973h3V988h-3zM2038 970h3V982h-3zM2041 817h3V850h-3zM2041 970h3V982h-3zM2044 967h3V982h-3zM2047 850h3V880h-3zM2047 970h3V982h-3zM2050 961h3V970h-3zM2053 973h3V979h-3zM2056 973h3V988h-3zM2059 931h3V940h-3zM2062 958h3V970h-3zM2065 967h3V976h-3zM2068 901h3V910h-3zM2068 955h3V964h-3zM2071 940h3V952h-3zM2074 886h3V895h-3zM2074 949h3V964h-3zM2077 922h3V928h-3zM2080 946h3V958h-3zM2083 937h3V949h-3zM2086 967h3V979h-3zM2089 949h3V961h-3zM2092 877h3V889h-3zM2092 970h3V976h-3zM2095 973h3V982h-3zM2098 922h3V928h-3zM2101 886h3V895h-3zM2101 970h3V985h-3zM2104 970h3V985h-3zM2107 946h3V952h-3zM2110 931h3V937h-3zM2113 949h3V964h-3zM2116 967h3V976h-3zM2119 865h3V883h-3zM2119 964h3V973h-3zM2122 931h3V940h-3zM2125 868h3V877h-3zM2125 949h3V958h-3zM2128 910h3V925h-3zM2128 952h3V961h-3zM2131 955h3V967h-3zM2134 973h3V988h-3zM2137 934h3V946h-3zM2140 877h3V898h-3zM2140 970h3V979h-3zM2143 916h3V931h-3zM2146 970h3V982h-3zM2149 952h3V961h-3zM2152 973h3V985h-3zM2155 970h3V979h-3zM2158 952h3V961h-3zM2161 964h3V973h-3zM2164 871h3V889h-3zM2164 934h3V940h-3zM2167 937h3V949h-3zM2170 940h3V949h-3zM2173 961h3V973h-3zM2176 961h3V964h-3zM2179 940h3V949h-3z"/>
<path fill-opacity="0.85" d="M316 460h3V496h-3zM319 385h3V418h-3zM328 277h3V301h-3zM334 190h3V229h-3zM349 169h3V190h-3zM355 241h3V283h-3zM373 529h3V559h-3zM403 466h3V499h-3zM415 340h3V376h-3zM430 382h3V430h-3zM436 508h3V541h-3zM481 499h3V520h-3zM508 601h3V613h-3zM514 541h3V559h-3zM517 541h3V559h-3zM529 541h3V556h-3zM541 436h3V454h-3zM547 502h3V541h-3zM556 511h3V514h-3zM562 469h3V490h-3zM628 583h3V601h-3zM634 532h3V550h-3zM637 508h3V517h-3zM784 643h3V691h-3zM787 637h3V640h-3zM790 640h3V664h-3zM799 589h3V610h-3zM808 550h3V574h-3zM811 589h3V592h-3zM814 634h3V649h-3zM817 652h3V664h-3zM835 664h3V676h-3zM886 652h3V664h-3zM904 721h3V733h-3zM925 598h3V613h-3zM928 595h3V610h-3zM937 595h3V619h-3zM940 571h3V595h-3zM943 613h3V640h-3zM991 685h3V697h-3zM1051 733h3V748h-3zM1054 757h3V763h-3zM1057 739h3V742h-3zM1072 739h3V742h-3zM1078 766h3V775h-3zM1081 733h3V739h-3zM1084 739h3V757h-3zM1087 748h3V760h-3zM1093 733h3V736h-3zM1096 727h3V742h-3zM1102 715h3V721h-3zM1108 691h3V715h-3zM1120 700h3V721h-3zM1126 727h3V736h-3zM1135 718h3V730h-3zM1141 727h3V736h-3zM1147 694h3V712h-3zM1153 709h3V760h-3zM1156 700h3V715h-3zM1162 694h3V700h-3zM1165 730h3V736h-3zM1168 697h3V700h-3zM1180 688h3V697h-3zM1183 691h3V697h-3zM1189 712h3V736h-3zM1192 661h3V682h-3zM1204 691h3V703h-3zM1210 727h3V739h-3zM1213 742h3V766h-3zM1216 706h3V727h-3zM1219 724h3V727h-3zM1234 730h3V733h-3zM1261 733h3V739h-3zM1270 751h3V757h-3zM1276 763h3V778h-3zM1285 727h3V736h-3zM1303 718h3V724h-3zM1312 703h3V706h-3zM1315 691h3V694h-3zM1321 739h3V769h-3zM1327 697h3V748h-3zM1330 688h3V700h-3zM1336 691h3V700h-3zM1345 745h3V754h-3zM1351 703h3V721h-3zM1354 703h3V715h-3zM1360 706h3V727h-3zM1372 736h3V742h-3zM1375 730h3V766h-3zM1381 739h3V772h-3zM1384 748h3V763h-3zM1387 730h3V748h-3zM1396 697h3V700h-3zM1408 706h3V739h-3zM1411 727h3V760h-3zM1423 709h3V730h-3zM1426 742h3V766h-3zM1429 736h3V763h-3zM1432 733h3V763h-3zM1435 751h3V763h-3zM1438 754h3V796h-3zM1441 763h3V772h-3zM1444 736h3V748h-3zM1447 745h3V754h-3zM1450 760h3V784h-3zM1453 730h3V739h-3zM1456 700h3V718h-3zM1462 748h3V760h-3zM1465 739h3V751h-3zM1468 760h3V781h-3zM1471 712h3V733h-3zM1474 769h3V781h-3zM1477 727h3V745h-3zM1480 739h3V757h-3zM1483 754h3V763h-3zM1489 718h3V721h-3zM1498 721h3V739h-3zM1510 724h3V727h-3zM1522 697h3V706h-3zM1528 730h3V748h-3zM1531 700h3V712h-3zM1534 736h3V745h-3zM1537 730h3V736h-3zM1540 691h3V709h-3zM1543 706h3V712h-3zM1546 739h3V748h-3zM1585 733h3V757h-3zM1600 748h3V754h-3zM1609 754h3V778h-3zM1621 760h3V778h-3zM1624 745h3V754h-3zM1627 757h3V763h-3zM1630 775h3V793h-3zM1648 685h3V691h-3zM1663 652h3V673h-3zM1669 652h3V673h-3zM1684 622h3V652h-3zM1687 664h3V676h-3zM1708 661h3V685h-3zM1720 694h3V709h-3zM1732 688h3V706h-3zM1738 706h3V715h-3zM1756 658h3V679h-3zM1765 670h3V679h-3zM1768 670h3V673h-3zM1807 643h3V661h-3zM1810 640h3V649h-3zM1822 661h3V670h-3zM1831 619h3V640h-3zM1849 652h3V664h-3zM1855 661h3V664h-3zM1861 649h3V661h-3zM1867 637h3V658h-3zM1876 676h3V706h-3zM1879 721h3V745h-3zM1903 670h3V682h-3zM1909 613h3V628h-3zM1912 613h3V628h-3zM1915 673h3V688h-3zM1921 700h3V706h-3zM1939 652h3V676h-3zM1945 640h3V670h-3zM1948 772h3V790h-3zM1957 784h3V808h-3zM1963 772h3V802h-3zM1969 784h3V808h-3zM1972 811h3V829h-3zM1978 781h3V799h-3zM1984 769h3V781h-3zM1987 799h3V820h-3zM1999 787h3V805h-3zM2002 760h3V790h-3zM2011 811h3V829h-3zM2023 736h3V790h-3zM2026 790h3V811h-3zM2032 769h3V796h-3zM2053 856h3V877h-3zM2056 877h3V910h-3zM2059 859h3V871h-3zM2062 886h3V913h-3zM2065 862h3V880h-3zM2071 889h3V898h-3zM2077 871h3V874h-3zM2083 859h3V871h-3zM2086 913h3V922h-3zM2089 877h3V907h-3zM2095 892h3V898h-3zM2098 886h3V904h-3zM2107 895h3V913h-3zM2110 901h3V913h-3zM2116 862h3V871h-3zM2122 904h3V916h-3zM2131 892h3V913h-3zM2134 898h3V913h-3zM2143 901h3V913h-3zM2146 862h3V865h-3zM2149 856h3V895h-3zM2152 892h3V901h-3zM2155 886h3V904h-3zM2158 862h3V889h-3zM2167 856h3V868h-3zM2173 829h3V841h-3zM2176 829h3V835h-3zM2179 847h3V856h-3z"/>
<path fill-opacity="0.9" d="M337 241h3V301h-3zM340 301h3V331h-3zM358 430h3V442h-3zM826 646h3V661h-3zM844 649h3V664h-3zM853 628h3V640h-3zM856 649h3V661h-3zM865 649h3V661h-3zM868 646h3V661h-3zM874 619h3V631h-3zM919 634h3V649h-3zM931 538h3V571h-3zM1699 649h3V661h-3zM1753 649h3V661h-3zM1852 604h3V619h-3zM1906 628h3V643h-3zM1942 649h3V661h-3z"/>
<path fill-opacity="0.95" d="M430 430h3V451h-3z"/>
<path d="M313 499h3V979h-3zM316 496h3V979h-3zM319 418h3V982h-3zM322 466h3V970h-3zM325 394h3V982h-3zM328 301h3V985h-3zM331 262h3V982h-3zM334 229h3V979h-3zM337 301h3V985h-3zM340 331h3V973h-3zM343 352h3V979h-3zM346 250h3V982h-3zM349 190h3V982h-3zM352 181h3V988h-3zM355 283h3V979h-3zM358 442h3V988h-3zM361 430h3V982h-3zM364 391h3V988h-3zM367 526h3V970h-3zM370 559h3V958h-3zM373 559h3V979h-3zM376 571h3V979h-3zM379 601h3V985h-3zM382 634h3V985h-3zM385 538h3V982h-3zM388 496h3V982h-3zM391 544h3V982h-3zM394 574h3V985h-3zM397 547h3V988h-3zM400 499h3V985h-3zM403 499h3V982h-3zM406 388h3V985h-3zM409 322h3V979h-3zM412 358h3V970h-3zM415 376h3V964h-3zM418 328h3V979h-3zM421 421h3V994h-3zM424 355h3V985h-3zM427 430h3V982h-3zM430 451h3V964h-3zM433 508h3V976h-3zM436 541h3V970h-3zM439 580h3V979h-3zM442 589h3V985h-3zM445 595h3V982h-3zM448 526h3V988h-3zM451 589h3V979h-3zM454 559h3V985h-3zM457 520h3V982h-3zM460 520h3V991h-3zM463 514h3V985h-3zM466 529h3V976h-3zM469 529h3V973h-3zM472 535h3V991h-3zM475 487h3V976h-3zM478 463h3V982h-3zM481 520h3V973h-3zM484 559h3V985h-3zM487 571h3V982h-3zM490 625h3V982h-3zM493 640h3V979h-3zM496 625h3V982h-3zM499 640h3V976h-3zM502 649h3V985h-3zM505 625h3V982h-3zM508 613h3V985h-3zM511 577h3V988h-3zM514 559h3V985h-3zM517 559h3V976h-3zM520 556h3V982h-3zM523 592h3V985h-3zM526 592h3V982h-3zM529 556h3V973h-3zM532 520h3V973h-3zM535 511h3V988h-3zM538 499h3V979h-3zM541 454h3V976h-3zM544 469h3V982h-3zM547 541h3V982h-3zM550 502h3V985h-3zM553 454h3V976h-3zM556 514h3V976h-3zM559 529h3V982h-3zM562 490h3V955h-3zM565 532h3V991h-3zM568 541h3V979h-3zM571 541h3V988h-3zM574 538h3V985h-3zM577 499h3V979h-3zM580 577h3V988h-3zM583 640h3V979h-3zM586 670h3V982h-3zM589 697h3V982h-3zM592 676h3V985h-3zM595 673h3V979h-3zM598 643h3V979h-3zM601 640h3V988h-3zM604 658h3V979h-3zM607 691h3V982h-3zM610 661h3V988h-3zM613 685h3V982h-3zM616 661h3V985h-3zM619 640h3V967h-3zM622 634h3V982h-3zM625 610h3V982h-3zM628 601h3V976h-3zM631 583h3V976h-3zM634 550h3V961h-3zM637 517h3V982h-3zM640 520h3V982h-3zM643 523h3V982h-3zM646 535h3V982h-3zM649 496h3V961h-3zM652 472h3V979h-3zM655 472h3V973h-3zM658 526h3V982h-3zM661 547h3V985h-3zM664 529h3V994h-3zM667 550h3V979h-3zM670 541h3V988h-3zM673 508h3V982h-3zM676 625h3V979h-3zM679 649h3V982h-3zM682 652h3V976h-3zM685 706h3V985h-3zM688 661h3V985h-3zM691 697h3V982h-3zM694 649h3V976h-3zM697 721h3V985h-3zM700 691h3V982h-3zM703 709h3V991h-3zM706 706h3V988h-3zM709 709h3V979h-3zM712 697h3V973h-3zM715 679h3V988h-3zM718 709h3V988h-3zM721 703h3V982h-3zM724 715h3V985h-3zM727 718h3V979h-3zM730 691h3V976h-3zM733 703h3V988h-3zM736 697h3V976h-3zM739 697h3V985h-3zM742 667h3V979h-3zM745 682h3V982h-3zM748 673h3V970h-3zM751 697h3V979h-3zM754 697h3V979h-3zM757 697h3V988h-3zM760 694h3V982h-3zM763 703h3V976h-3zM766 703h3V979h-3zM769 691h3V973h-3zM772 712h3V988h-3zM775 688h3V985h-3zM778 697h3V982h-3zM781 688h3V982h-3zM784 691h3V982h-3zM787 640h3V991h-3zM790 700h3V946h-3zM793 700h3V985h-3zM796 619h3V985h-3zM799 610h3V985h-3zM802 601h3V982h-3zM805 604h3V991h-3zM808 574h3V958h-3zM811 592h3V988h-3zM814 649h3V973h-3zM817 664h3V982h-3zM820 685h3V967h-3zM823 685h3V985h-3zM826 661h3V982h-3zM829 706h3V988h-3zM832 715h3V985h-3zM835 676h3V982h-3zM838 664h3V985h-3zM841 694h3V979h-3zM844 664h3V982h-3zM847 691h3V988h-3zM850 676h3V979h-3zM853 640h3V982h-3zM856 661h3V994h-3zM859 625h3V982h-3zM862 622h3V964h-3zM865 661h3V982h-3zM868 661h3V982h-3zM871 664h3V979h-3zM874 631h3V985h-3zM877 661h3V988h-3zM880 661h3V985h-3zM883 643h3V979h-3zM886 664h3V973h-3zM889 667h3V985h-3zM892 736h3V988h-3zM895 733h3V976h-3zM898 742h3V982h-3zM901 739h3V985h-3zM904 733h3V976h-3zM907 742h3V985h-3zM910 730h3V985h-3zM913 703h3V991h-3zM916 670h3V988h-3zM919 649h3V988h-3zM922 658h3V988h-3zM925 613h3V985h-3zM928 610h3V988h-3zM931 571h3V982h-3zM934 610h3V979h-3zM937 619h3V970h-3zM940 595h3V964h-3zM943 640h3V967h-3zM946 694h3V979h-3zM949 703h3V982h-3zM952 709h3V991h-3zM955 709h3V979h-3zM958 721h3V988h-3zM961 715h3V979h-3zM964 712h3V982h-3zM967 694h3V982h-3zM970 706h3V979h-3zM973 682h3V985h-3zM976 724h3V985h-3zM979 700h3V976h-3zM982 715h3V982h-3zM985 685h3V976h-3zM988 685h3V979h-3zM991 697h3V982h-3zM994 700h3V982h-3zM997 703h3V985h-3zM1000 703h3V988h-3zM1003 700h3V982h-3zM1006 691h3V976h-3zM1009 700h3V982h-3zM1012 712h3V976h-3zM1015 688h3V970h-3zM1018 685h3V958h-3zM1021 712h3V982h-3zM1024 721h3V985h-3zM1027 751h3V985h-3zM1030 727h3V979h-3zM1033 751h3V976h-3zM1036 766h3V976h-3zM1039 775h3V973h-3zM1042 769h3V988h-3zM1045 766h3V982h-3zM1048 760h3V985h-3zM1051 748h3V991h-3zM1054 763h3V988h-3zM1057 742h3V979h-3zM1060 742h3V976h-3zM1063 739h3V985h-3zM1066 751h3V991h-3zM1069 769h3V988h-3zM1072 742h3V988h-3zM1075 772h3V958h-3zM1078 775h3V985h-3zM1081 739h3V976h-3zM1084 757h3V982h-3zM1087 760h3V985h-3zM1090 763h3V979h-3zM1093 736h3V979h-3zM1096 742h3V991h-3zM1099 739h3V976h-3zM1102 721h3V976h-3zM1105 721h3V976h-3zM1108 715h3V991h-3zM1111 742h3V979h-3zM1114 721h3V985h-3zM1117 706h3V985h-3zM1120 721h3V967h-3zM1123 697h3V967h-3zM1126 736h3V988h-3zM1129 712h3V970h-3zM1132 709h3V988h-3zM1135 730h3V985h-3zM1138 712h3V988h-3zM1141 736h3V982h-3zM1144 724h3V982h-3zM1147 712h3V982h-3zM1150 745h3V994h-3zM1153 760h3V958h-3zM1156 715h3V973h-3zM1159 751h3V988h-3zM1162 700h3V985h-3zM1165 736h3V982h-3zM1168 700h3V955h-3zM1171 706h3V985h-3zM1174 703h3V976h-3zM1177 718h3V985h-3zM1180 697h3V988h-3zM1183 697h3V985h-3zM1186 712h3V979h-3zM1189 736h3V982h-3zM1192 682h3V964h-3zM1195 721h3V988h-3zM1198 718h3V979h-3zM1201 730h3V982h-3zM1204 703h3V979h-3zM1207 709h3V985h-3zM1210 739h3V979h-3zM1213 766h3V991h-3zM1216 727h3V988h-3zM1219 727h3V964h-3zM1222 754h3V985h-3zM1225 730h3V985h-3zM1228 751h3V988h-3zM1231 748h3V982h-3zM1234 733h3V967h-3zM1237 784h3V979h-3zM1240 796h3V982h-3zM1243 787h3V976h-3zM1246 745h3V979h-3zM1249 751h3V985h-3zM1252 736h3V976h-3zM1255 775h3V982h-3zM1258 733h3V982h-3zM1261 739h3V982h-3zM1264 787h3V979h-3zM1267 739h3V991h-3zM1270 757h3V982h-3zM1273 775h3V982h-3zM1276 778h3V970h-3zM1279 733h3V985h-3zM1282 751h3V964h-3zM1285 736h3V988h-3zM1288 745h3V976h-3zM1291 751h3V979h-3zM1294 742h3V985h-3zM1297 757h3V982h-3zM1300 706h3V976h-3zM1303 724h3V961h-3zM1306 727h3V976h-3zM1309 730h3V973h-3zM1312 706h3V976h-3zM1315 694h3V976h-3zM1318 727h3V976h-3zM1321 769h3V982h-3zM1324 730h3V988h-3zM1327 748h3V979h-3zM1330 700h3V976h-3zM1333 709h3V979h-3zM1336 700h3V988h-3zM1339 745h3V979h-3zM1342 724h3V991h-3zM1345 754h3V982h-3zM1348 709h3V982h-3zM1351 721h3V988h-3zM1354 715h3V976h-3zM1357 748h3V979h-3zM1360 727h3V982h-3zM1363 745h3V979h-3zM1366 721h3V979h-3zM1369 733h3V979h-3zM1372 742h3V976h-3zM1375 766h3V976h-3zM1378 733h3V976h-3zM1381 772h3V973h-3zM1384 763h3V970h-3zM1387 748h3V982h-3zM1390 727h3V982h-3zM1393 754h3V964h-3zM1396 700h3V976h-3zM1399 706h3V982h-3zM1402 733h3V982h-3zM1405 781h3V979h-3zM1408 739h3V988h-3zM1411 760h3V979h-3zM1414 739h3V985h-3zM1417 769h3V991h-3zM1420 736h3V985h-3zM1423 730h3V958h-3zM1426 766h3V982h-3zM1429 763h3V982h-3zM1432 763h3V985h-3zM1435 763h3V988h-3zM1438 796h3V985h-3zM1441 772h3V976h-3zM1444 748h3V988h-3zM1447 754h3V982h-3zM1450 784h3V982h-3zM1453 739h3V982h-3zM1456 718h3V982h-3zM1459 769h3V991h-3zM1462 760h3V979h-3zM1465 751h3V982h-3zM1468 781h3V982h-3zM1471 733h3V979h-3zM1474 781h3V982h-3zM1477 745h3V976h-3zM1480 757h3V982h-3zM1483 763h3V991h-3zM1486 730h3V976h-3zM1489 721h3V988h-3zM1492 718h3V979h-3zM1495 754h3V985h-3zM1498 739h3V991h-3zM1501 772h3V985h-3zM1504 739h3V976h-3zM1507 733h3V979h-3zM1510 727h3V973h-3zM1513 748h3V976h-3zM1516 706h3V982h-3zM1519 748h3V979h-3zM1522 706h3V988h-3zM1525 766h3V982h-3zM1528 748h3V985h-3zM1531 712h3V985h-3zM1534 745h3V982h-3zM1537 736h3V982h-3zM1540 709h3V988h-3zM1543 712h3V982h-3zM1546 748h3V979h-3zM1549 706h3V991h-3zM1552 733h3V982h-3zM1555 739h3V982h-3zM1558 733h3V979h-3zM1561 727h3V979h-3zM1564 739h3V982h-3zM1567 727h3V979h-3zM1570 721h3V979h-3zM1573 727h3V988h-3zM1576 712h3V988h-3zM1579 733h3V982h-3zM1582 724h3V985h-3zM1585 757h3V985h-3zM1588 733h3V982h-3zM1591 727h3V991h-3zM1594 724h3V985h-3zM1597 754h3V982h-3zM1600 754h3V973h-3zM1603 736h3V982h-3zM1606 802h3V991h-3zM1609 778h3V982h-3zM1612 745h3V988h-3zM1615 760h3V988h-3zM1618 793h3V982h-3zM1621 778h3V988h-3zM1624 754h3V979h-3zM1627 763h3V979h-3zM1630 793h3V985h-3zM1633 763h3V979h-3zM1636 730h3V991h-3zM1639 724h3V985h-3zM1642 730h3V976h-3zM1645 724h3V982h-3zM1648 691h3V982h-3zM1651 700h3V976h-3zM1654 712h3V991h-3zM1657 712h3V958h-3zM1660 673h3V979h-3zM1663 673h3V982h-3zM1666 676h3V979h-3zM1669 673h3V976h-3zM1672 676h3V985h-3zM1675 691h3V979h-3zM1678 706h3V985h-3zM1681 661h3V985h-3zM1684 652h3V991h-3zM1687 676h3V985h-3zM1690 670h3V988h-3zM1693 670h3V970h-3zM1696 676h3V979h-3zM1699 661h3V982h-3zM1702 682h3V988h-3zM1705 682h3V973h-3zM1708 685h3V967h-3zM1711 685h3V982h-3zM1714 724h3V982h-3zM1717 730h3V985h-3zM1720 709h3V976h-3zM1723 721h3V991h-3zM1726 724h3V988h-3zM1729 760h3V985h-3zM1732 706h3V985h-3zM1735 724h3V991h-3zM1738 715h3V982h-3zM1741 700h3V979h-3zM1744 694h3V988h-3zM1747 694h3V982h-3zM1750 691h3V985h-3zM1753 661h3V982h-3zM1756 679h3V988h-3zM1759 682h3V976h-3zM1762 682h3V976h-3zM1765 679h3V985h-3zM1768 673h3V985h-3zM1771 709h3V985h-3zM1774 715h3V979h-3zM1777 703h3V985h-3zM1780 700h3V982h-3zM1783 703h3V985h-3zM1786 703h3V982h-3zM1789 703h3V982h-3zM1792 715h3V985h-3zM1795 697h3V982h-3zM1798 667h3V988h-3zM1801 670h3V973h-3zM1804 670h3V976h-3zM1807 661h3V985h-3zM1810 649h3V982h-3zM1813 649h3V985h-3zM1816 652h3V970h-3zM1819 685h3V979h-3zM1822 670h3V958h-3zM1825 661h3V985h-3zM1828 673h3V976h-3zM1831 640h3V973h-3zM1834 664h3V985h-3zM1837 667h3V982h-3zM1840 667h3V985h-3zM1843 649h3V967h-3zM1846 679h3V970h-3zM1849 664h3V985h-3zM1852 619h3V988h-3zM1855 664h3V985h-3zM1858 664h3V979h-3zM1861 661h3V979h-3zM1864 661h3V985h-3zM1867 658h3V985h-3zM1870 670h3V976h-3zM1873 670h3V985h-3zM1876 706h3V979h-3zM1879 745h3V985h-3zM1882 739h3V970h-3zM1885 733h3V973h-3zM1888 766h3V985h-3zM1891 721h3V982h-3zM1894 772h3V985h-3zM1897 799h3V985h-3zM1900 721h3V979h-3zM1903 682h3V988h-3zM1906 643h3V982h-3zM1909 628h3V982h-3zM1912 628h3V973h-3zM1915 688h3V988h-3zM1918 670h3V985h-3zM1921 706h3V988h-3zM1924 796h3V976h-3zM1927 748h3V961h-3zM1930 733h3V967h-3zM1933 748h3V982h-3zM1936 676h3V991h-3zM1939 676h3V979h-3zM1942 661h3V967h-3zM1945 670h3V982h-3zM1948 790h3V979h-3zM1951 820h3V976h-3zM1954 823h3V970h-3zM1957 808h3V982h-3zM1960 826h3V988h-3zM1963 802h3V970h-3zM1966 829h3V979h-3zM1969 808h3V976h-3zM1972 829h3V973h-3zM1975 829h3V970h-3zM1978 799h3V973h-3zM1981 850h3V973h-3zM1984 781h3V982h-3zM1987 820h3V985h-3zM1990 844h3V970h-3zM1993 850h3V967h-3zM1996 829h3V967h-3zM1999 805h3V979h-3zM2002 790h3V979h-3zM2005 790h3V982h-3zM2008 829h3V976h-3zM2011 829h3V973h-3zM2014 844h3V976h-3zM2017 841h3V979h-3zM2020 811h3V970h-3zM2023 790h3V970h-3zM2026 811h3V979h-3zM2029 829h3V982h-3zM2032 796h3V979h-3zM2035 814h3V973h-3zM2038 835h3V970h-3zM2041 850h3V970h-3zM2044 871h3V967h-3zM2047 880h3V970h-3zM2050 874h3V961h-3zM2053 877h3V973h-3zM2056 910h3V973h-3zM2059 871h3V931h-3zM2062 913h3V958h-3zM2065 880h3V967h-3zM2068 910h3V955h-3zM2071 898h3V940h-3zM2074 895h3V949h-3zM2077 874h3V922h-3zM2080 871h3V946h-3zM2083 871h3V937h-3zM2086 922h3V967h-3zM2089 907h3V949h-3zM2092 889h3V970h-3zM2095 898h3V973h-3zM2098 904h3V922h-3zM2101 895h3V970h-3zM2104 898h3V970h-3zM2107 913h3V946h-3zM2110 913h3V931h-3zM2113 916h3V949h-3zM2116 871h3V967h-3zM2119 883h3V964h-3zM2122 916h3V931h-3zM2125 877h3V949h-3zM2128 925h3V952h-3zM2131 913h3V955h-3zM2134 913h3V973h-3zM2137 880h3V934h-3zM2140 898h3V970h-3zM2143 913h3V916h-3zM2146 865h3V970h-3zM2149 895h3V952h-3zM2152 901h3V973h-3zM2155 904h3V970h-3zM2158 889h3V952h-3zM2161 889h3V964h-3zM2164 889h3V934h-3zM2167 868h3V937h-3zM2170 889h3V940h-3zM2173 841h3V961h-3zM2176 835h3V961h-3zM2179 856h3V940h-3zM2182 862h3V958h-3z"/>
</g>
<g filter="url(#soft)">
<g fill="none" stroke="#ffff00" stroke-linecap="square" stroke-linejoin="round"><path d="M311.3 692.6C319.1 694.1 342.5 698.6 358.1 701.5C373.6 704.4 389.2 707.1 404.8 709.8C420.4 712.5 436.0 715.0 451.6 717.4C467.2 719.9 482.8 722.2 498.3 724.5C513.9 726.7 529.5 728.9 545.1 730.9C560.7 733.0 576.3 734.9 591.9 736.8C607.4 738.7 623.0 740.5 638.6 742.2C654.2 743.9 669.8 745.5 685.4 747.1C701.0 748.6 716.6 750.1 732.1 751.5C747.7 752.9 763.3 754.2 778.9 755.5C794.5 756.7 810.1 757.9 825.7 759.0C841.2 760.2 856.8 761.2 872.4 762.3C888.0 763.3 903.6 764.2 919.2 765.1C934.8 766.0 950.4 766.9 965.9 767.7C981.5 768.5 997.1 769.3 1012.7 770.0C1028.3 770.7 1043.9 771.4 1059.5 772.0C1075.0 772.7 1090.6 773.3 1106.2 773.9C1121.8 774.5 1137.4 775.0 1153.0 775.6C1168.6 776.1 1184.2 776.6 1199.7 777.1C1215.3 777.6 1230.9 778.0 1246.5 778.5C1262.1 779.0 1277.7 779.4 1293.3 779.9C1308.8 780.3 1324.4 780.7 1340.0 781.2C1355.6 781.6 1371.2 782.0 1386.8 782.5C1402.4 782.9 1418.0 783.4 1433.5 783.8C1449.1 784.3 1464.7 784.8 1480.3 785.3C1495.9 785.7 1511.5 786.2 1527.1 786.8C1542.6 787.3 1558.2 787.9 1573.8 788.4C1589.4 789.0 1605.0 789.6 1620.6 790.3C1636.2 790.9 1651.8 791.6 1667.3 792.3C1682.9 793.1 1698.5 793.8 1714.1 794.7C1729.7 795.5 1745.3 796.3 1760.9 797.3C1776.4 798.2 1792.0 799.2 1807.6 800.2C1823.2 801.2 1838.8 802.3 1854.4 803.5C1870.0 804.7 1885.6 805.9 1901.1 807.2C1916.7 808.5 1932.3 809.9 1947.9 811.4C1963.5 812.8 1979.1 814.4 1994.7 816.0C2010.2 817.7 2025.8 819.4 2041.4 821.2C2057.0 823.0 2072.6 824.9 2088.2 826.9C2103.8 829.0 2119.4 831.1 2134.9 833.3C2150.5 835.5 2173.9 839.1 2181.7 840.3" stroke-width="11.6" stroke-opacity="0.4"/><path d="M311.3 692.6C319.1 694.1 342.5 698.6 358.1 701.5C373.6 704.4 389.2 707.1 404.8 709.8C420.4 712.5 436.0 715.0 451.6 717.4C467.2 719.9 482.8 722.2 498.3 724.5C513.9 726.7 529.5 728.9 545.1 730.9C560.7 733.0 576.3 734.9 591.9 736.8C607.4 738.7 623.0 740.5 638.6 742.2C654.2 743.9 669.8 745.5 685.4 747.1C701.0 748.6 716.6 750.1 732.1 751.5C747.7 752.9 763.3 754.2 778.9 755.5C794.5 756.7 810.1 757.9 825.7 759.0C841.2 760.2 856.8 761.2 872.4 762.3C888.0 763.3 903.6 764.2 919.2 765.1C934.8 766.0 950.4 766.9 965.9 767.7C981.5 768.5 997.1 769.3 1012.7 770.0C1028.3 770.7 1043.9 771.4 1059.5 772.0C1075.0 772.7 1090.6 773.3 1106.2 773.9C1121.8 774.5 1137.4 775.0 1153.0 775.6C1168.6 776.1 1184.2 776.6 1199.7 777.1C1215.3 777.6 1230.9 778.0 1246.5 778.5C1262.1 779.0 1277.7 779.4 1293.3 779.9C1308.8 780.3 1324.4 780.7 1340.0 781.2C1355.6 781.6 1371.2 782.0 1386.8 782.5C1402.4 782.9 1418.0 783.4 1433.5 783.8C1449.1 784.3 1464.7 784.8 1480.3 785.3C1495.9 785.7 1511.5 786.2 1527.1 786.8C1542.6 787.3 1558.2 787.9 1573.8 788.4C1589.4 789.0 1605.0 789.6 1620.6 790.3C1636.2 790.9 1651.8 791.6 1667.3 792.3C1682.9 793.1 1698.5 793.8 1714.1 794.7C1729.7 795.5 1745.3 796.3 1760.9 797.3C1776.4 798.2 1792.0 799.2 1807.6 800.2C1823.2 801.2 1838.8 802.3 1854.4 803.5C1870.0 804.7 1885.6 805.9 1901.1 807.2C1916.7 808.5 1932.3 809.9 1947.9 811.4C1963.5 812.8 1979.1 814.4 1994.7 816.0C2010.2 817.7 2025.8 819.4 2041.4 821.2C2057.0 823.0 2072.6 824.9 2088.2 826.9C2103.8 829.0 2119.4 831.1 2134.9 833.3C2150.5 835.5 2173.9 839.1 2181.7 840.3" stroke-width="6.2"/></g>
<g fill="none" stroke="#ffa500" stroke-linecap="square" stroke-linejoin="round"><path d="M311.3 600.4C319.1 601.9 342.5 606.4 358.1 609.3C373.6 612.2 389.2 614.9 404.8 617.6C420.4 620.3 436.0 622.8 451.6 625.2C467.2 627.7 482.8 630.0 498.3 632.3C513.9 634.5 529.5 636.7 545.1 638.7C560.7 640.8 576.3 642.7 591.9 644.6C607.4 646.5 623.0 648.3 638.6 650.0C654.2 651.7 669.8 653.3 685.4 654.9C701.0 656.4 716.6 657.9 732.1 659.3C747.7 660.7 763.3 662.0 778.9 663.3C794.5 664.5 810.1 665.7 825.7 666.8C841.2 668.0 856.8 669.0 872.4 670.1C888.0 671.1 903.6 672.0 919.2 672.9C934.8 673.8 950.4 674.7 965.9 675.5C981.5 676.3 997.1 677.1 1012.7 677.8C1028.3 678.5 1043.9 679.2 1059.5 679.8C1075.0 680.5 1090.6 681.1 1106.2 681.7C1121.8 682.3 1137.4 682.8 1153.0 683.4C1168.6 683.9 1184.2 684.4 1199.7 684.9C1215.3 685.4 1230.9 685.8 1246.5 686.3C1262.1 686.8 1277.7 687.2 1293.3 687.7C1308.8 688.1 1324.4 688.5 1340.0 689.0C1355.6 689.4 1371.2 689.8 1386.8 690.3C1402.4 690.7 1418.0 691.2 1433.5 691.6C1449.1 692.1 1464.7 692.6 1480.3 693.1C1495.9 693.5 1511.5 694.0 1527.1 694.6C1542.6 695.1 1558.2 695.7 1573.8 696.2C1589.4 696.8 1605.0 697.4 1620.6 698.1C1636.2 698.7 1651.8 699.4 1667.3 700.1C1682.9 700.9 1698.5 701.6 1714.1 702.5C1729.7 703.3 1745.3 704.1 1760.9 705.1C1776.4 706.0 1792.0 707.0 1807.6 708.0C1823.2 709.0 1838.8 710.1 1854.4 711.3C1870.0 712.5 1885.6 713.7 1901.1 715.0C1916.7 716.3 1932.3 717.7 1947.9 719.2C1963.5 720.6 1979.1 722.2 1994.7 723.8C2010.2 725.5 2025.8 727.2 2041.4 729.0C2057.0 730.8 2072.6 732.7 2088.2 734.7C2103.8 736.8 2119.4 738.9 2134.9 741.1C2150.5 743.3 2173.9 746.9 2181.7 748.1" stroke-width="11.6" stroke-opacity="0.4"/><path d="M311.3 600.4C319.1 601.9 342.5 606.4 358.1 609.3C373.6 612.2 389.2 614.9 404.8 617.6C420.4 620.3 436.0 622.8 451.6 625.2C467.2 627.7 482.8 630.0 498.3 632.3C513.9 634.5 529.5 636.7 545.1 638.7C560.7 640.8 576.3 642.7 591.9 644.6C607.4 646.5 623.0 648.3 638.6 650.0C654.2 651.7 669.8 653.3 685.4 654.9C701.0 656.4 716.6 657.9 732.1 659.3C747.7 660.7 763.3 662.0 778.9 663.3C794.5 664.5 810.1 665.7 825.7 666.8C841.2 668.0 856.8 669.0 872.4 670.1C888.0 671.1 903.6 672.0 919.2 672.9C934.8 673.8 950.4 674.7 965.9 675.5C981.5 676.3 997.1 677.1 1012.7 677.8C1028.3 678.5 1043.9 679.2 1059.5 679.8C1075.0 680.5 1090.6 681.1 1106.2 681.7C1121.8 682.3 1137.4 682.8 1153.0 683.4C1168.6 683.9 1184.2 684.4 1199.7 684.9C1215.3 685.4 1230.9 685.8 1246.5 686.3C1262.1 686.8 1277.7 687.2 1293.3 687.7C1308.8 688.1 1324.4 688.5 1340.0 689.0C1355.6 689.4 1371.2 689.8 1386.8 690.3C1402.4 690.7 1418.0 691.2 1433.5 691.6C1449.1 692.1 1464.7 692.6 1480.3 693.1C1495.9 693.5 1511.5 694.0 1527.1 694.6C1542.6 695.1 1558.2 695.7 1573.8 696.2C1589.4 696.8 1605.0 697.4 1620.6 698.1C1636.2 698.7 1651.8 699.4 1667.3 700.1C1682.9 700.9 1698.5 701.6 1714.1 702.5C1729.7 703.3 1745.3 704.1 1760.9 705.1C1776.4 706.0 1792.0 707.0 1807.6 708.0C1823.2 709.0 1838.8 710.1 1854.4 711.3C1870.0 712.5 1885.6 713.7 1901.1 715.0C1916.7 716.3 1932.3 717.7 1947.9 719.2C1963.5 720.6 1979.1 722.2 1994.7 723.8C2010.2 725.5 2025.8 727.2 2041.4 729.0C2057.0 730.8 2072.6 732.7 2088.2 734.7C2103.8 736.8 2119.4 738.9 2134.9 741.1C2150.5 743.3 2173.9 746.9 2181.7 748.1" stroke-width="6.2"/></g>
<g fill="none" stroke="#ff0000" stroke-linecap="square" stroke-linejoin="round"><path d="M311.3 508.0C319.1 509.5 342.5 514.0 358.1 516.9C373.6 519.8 389.2 522.5 404.8 525.2C420.4 527.9 436.0 530.4 451.6 532.8C467.2 535.3 482.8 537.6 498.3 539.9C513.9 542.1 529.5 544.3 545.1 546.3C560.7 548.4 576.3 550.3 591.9 552.2C607.4 554.1 623.0 555.9 638.6 557.6C654.2 559.3 669.8 560.9 685.4 562.5C701.0 564.0 716.6 565.5 732.1 566.9C747.7 568.3 763.3 569.6 778.9 570.9C794.5 572.1 810.1 573.3 825.7 574.4C841.2 575.6 856.8 576.6 872.4 577.7C888.0 578.7 903.6 579.6 919.2 580.5C934.8 581.4 950.4 582.3 965.9 583.1C981.5 583.9 997.1 584.7 1012.7 585.4C1028.3 586.1 1043.9 586.8 1059.5 587.4C1075.0 588.1 1090.6 588.7 1106.2 589.3C1121.8 589.9 1137.4 590.4 1153.0 591.0C1168.6 591.5 1184.2 592.0 1199.7 592.5C1215.3 593.0 1230.9 593.4 1246.5 593.9C1262.1 594.4 1277.7 594.8 1293.3 595.3C1308.8 595.7 1324.4 596.1 1340.0 596.6C1355.6 597.0 1371.2 597.4 1386.8 597.9C1402.4 598.3 1418.0 598.8 1433.5 599.2C1449.1 599.7 1464.7 600.2 1480.3 600.7C1495.9 601.1 1511.5 601.6 1527.1 602.2C1542.6 602.7 1558.2 603.3 1573.8 603.8C1589.4 604.4 1605.0 605.0 1620.6 605.7C1636.2 606.3 1651.8 607.0 1667.3 607.7C1682.9 608.5 1698.5 609.2 1714.1 610.1C1729.7 610.9 1745.3 611.7 1760.9 612.7C1776.4 613.6 1792.0 614.6 1807.6 615.6C1823.2 616.6 1838.8 617.7 1854.4 618.9C1870.0 620.1 1885.6 621.3 1901.1 622.6C1916.7 623.9 1932.3 625.3 1947.9 626.8C1963.5 628.2 1979.1 629.8 1994.7 631.4C2010.2 633.1 2025.8 634.8 2041.4 636.6C2057.0 638.4 2072.6 640.3 2088.2 642.3C2103.8 644.4 2119.4 646.5 2134.9 648.7C2150.5 650.9 2173.9 654.5 2181.7 655.7" stroke-width="11.6" stroke-opacity="0.4"/><path d="M311.3 508.0C319.1 509.5 342.5 514.0 358.1 516.9C373.6 519.8 389.2 522.5 404.8 525.2C420.4 527.9 436.0 530.4 451.6 532.8C467.2 535.3 482.8 537.6 498.3 539.9C513.9 542.1 529.5 544.3 545.1 546.3C560.7 548.4 576.3 550.3 591.9 552.2C607.4 554.1 623.0 555.9 638.6 557.6C654.2 559.3 669.8 560.9 685.4 562.5C701.0 564.0 716.6 565.5 732.1 566.9C747.7 568.3 763.3 569.6 778.9 570.9C794.5 572.1 810.1 573.3 825.7 574.4C841.2 575.6 856.8 576.6 872.4 577.7C888.0 578.7 903.6 579.6 919.2 580.5C934.8 581.4 950.4 582.3 965.9 583.1C981.5 583.9 997.1 584.7 1012.7 585.4C1028.3 586.1 1043.9 586.8 1059.5 587.4C1075.0 588.1 1090.6 588.7 1106.2 589.3C1121.8 589.9 1137.4 590.4 1153.0 591.0C1168.6 591.5 1184.2 592.0 1199.7 592.5C1215.3 593.0 1230.9 593.4 1246.5 593.9C1262.1 594.4 1277.7 594.8 1293.3 595.3C1308.8 595.7 1324.4 596.1 1340.0 596.6C1355.6 597.0 1371.2 597.4 1386.8 597.9C1402.4 598.3 1418.0 598.8 1433.5 599.2C1449.1 599.7 1464.7 600.2 1480.3 600.7C1495.9 601.1 1511.5 601.6 1527.1 602.2C1542.6 602.7 1558.2 603.3 1573.8 603.8C1589.4 604.4 1605.0 605.0 1620.6 605.7C1636.2 606.3 1651.8 607.0 1667.3 607.7C1682.9 608.5 1698.5 609.2 1714.1 610.1C1729.7 610.9 1745.3 611.7 1760.9 612.7C1776.4 613.6 1792.0 614.6 1807.6 615.6C1823.2 616.6 1838.8 617.7 1854.4 618.9C1870.0 620.1 1885.6 621.3 1901.1 622.6C1916.7 623.9 1932.3 625.3 1947.9 626.8C1963.5 628.2 1979.1 629.8 1994.7 631.4C2010.2 633.1 2025.8 634.8 2041.4 636.6C2057.0 638.4 2072.6 640.3 2088.2 642.3C2103.8 644.4 2119.4 646.5 2134.9 648.7C2150.5 650.9 2173.9 654.5 2181.7 655.7" stroke-width="6.2"/></g>
<rect x="192.0" y="33.9" width="2093.8" height="967.8000000000001" fill="none" stroke="#262626" stroke-width="7.3"/>
<rect x="1210.3" y="64.0" width="1045.0000000000002" height="102.69999999999999" rx="8" ry="8" fill="#fff" fill-opacity="0.8" stroke="#cccccc" stroke-opacity="0.72" stroke-width="4"/>
<g stroke-width="8.6" stroke-linecap="butt" fill="none">
<path d="M1231.3 111.3 h128.3" stroke="#ffff00"/>
<path d="M1585.8 111.3 h128.3" stroke="#ffa500"/>
<path d="M1967.2 111.3 h128.3" stroke="#ff0000"/>
</g>
<g font-family="'DejaVu Sans', sans-serif" fill="#262626" font-size="61" stroke="#fff" stroke-width="0.9" stroke-linejoin="round">
<text><tspan x="1403.2" y="132.3" font-style="italic">T</tspan><tspan x="1439.5" y="141.5" font-size="42.7"><tspan font-style="italic">σ</tspan></tspan></text>
<text><tspan x="1757.5" y="132.3" font-style="italic">T</tspan><tspan x="1794.5" y="141.5" font-size="42.7">2<tspan font-style="italic">σ</tspan></tspan></text>
<text><tspan x="2139.0" y="132.3" font-style="italic">T</tspan><tspan x="2176.0" y="141.5" font-size="42.7">3<tspan font-style="italic">σ</tspan></tspan></text>
</g>
<g font-family="'Liberation Sans', sans-serif" fill="#262626" font-size="62" stroke="#fff" stroke-width="0.9" stroke-linejoin="round">
<text transform="translate(314.1 1065.2) scale(0.915 1)" text-anchor="middle">10</text>
<text transform="translate(560.5 1065.2) scale(0.915 1)" text-anchor="middle">20</text>
<text transform="translate(807.0 1065.2) scale(0.915 1)" text-anchor="middle">30</text>
<text transform="translate(1053.5 1065.2) scale(0.915 1)" text-anchor="middle">40</text>
<text transform="translate(1299.9 1065.2) scale(0.915 1)" text-anchor="middle">50</text>
<text transform="translate(1546.4 1065.2) scale(0.915 1)" text-anchor="middle">60</text>
<text transform="translate(1792.8 1065.2) scale(0.915 1)" text-anchor="middle">70</text>
<text transform="translate(2039.2 1065.2) scale(0.915 1)" text-anchor="middle">80</text>
<text transform="translate(2285.7 1065.2) scale(0.915 1)" text-anchor="middle">90</text>
<text transform="translate(171.2 1023.2) scale(0.915 1)" text-anchor="end">0</text>
<text transform="translate(171.2 850.2) scale(0.915 1)" text-anchor="end">2</text>
<text transform="translate(171.2 677.2) scale(0.915 1)" text-anchor="end">4</text>
<text transform="translate(171.2 504.2) scale(0.915 1)" text-anchor="end">6</text>
<text transform="translate(171.2 331.2) scale(0.915 1)" text-anchor="end">8</text>
<text transform="translate(171.2 158.2) scale(0.915 1)" text-anchor="end">10</text>
</g>
<path fill="#fff" d="M285.6 1059.5H296.6v7.0H285.6zM302.0 1059.5H312.4v7.0H302.0z"/>
<path fill="#fff" d="M111.2 152.6H122.1v7.0H111.2zM127.6 152.6H138.0v7.0H127.6z"/>
<text x="1239.8" y="1146.3" text-anchor="middle" font-family="'Liberation Sans', sans-serif" font-size="66.0" fill="#262626" stroke="#fff" stroke-width="0.9" stroke-linejoin="round">Elevation Angle (°)</text>
<g transform="translate(67.6 713) rotate(-90)" fill="#262626" font-size="66.0" stroke="#fff" stroke-width="0.9" stroke-linejoin="round">
<text><tspan x="0" y="0" font-family="'DejaVu Sans', sans-serif" font-style="italic" font-size="64.5">C<tspan font-style="normal">/</tspan>N</tspan><tspan x="116.9" y="10" font-family="'DejaVu Sans', sans-serif" font-size="45.5">0 </tspan><tspan x="163.9" y="0" font-family="'Liberation Sans', sans-serif" font-size="66.5">(dB-Hz)</tspan></text>
</g>
</g>
</svg>
</body>
</html>
